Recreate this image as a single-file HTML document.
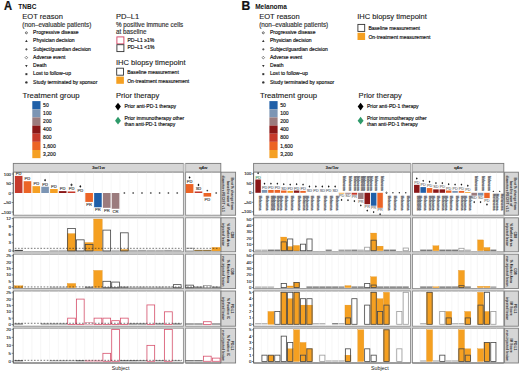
<!DOCTYPE html>
<html><head><meta charset="utf-8"><title>Figure</title>
<style>
html,body{margin:0;padding:0;background:#fff;}
body{width:520px;height:372px;overflow:hidden;}
svg{display:block;font-family:"Liberation Sans", sans-serif;}
</style></head>
<body>
<svg width="520" height="372" viewBox="0 0 520 372">
<rect x="0" y="0" width="520" height="372" fill="#fff"/>
<text x="0" y="0" font-size="12.4" font-weight="bold" fill="#111" stroke="#111" stroke-width="0.25" transform="translate(4.1 10.45) scale(0.9 1)">A</text>
<text x="18.30" y="8.80" font-size="6.5" font-weight="bold" text-anchor="start" fill="#111">TNBC</text>
<text x="22.30" y="19.20" font-size="7.55" font-weight="normal" text-anchor="start" fill="#222" stroke="#222" stroke-width="0.12">EOT reason</text>
<text x="22.30" y="27.20" font-size="6.3" font-weight="normal" text-anchor="start" fill="#333" stroke="#333" stroke-width="0.16">(non–evaluable patients)</text>
<circle cx="26.40" cy="32.80" r="1.00" fill="none" stroke="#333" stroke-width="0.7"/>
<text x="33.10" y="34.10" font-size="5.05" font-weight="normal" text-anchor="start" fill="#111" stroke="#111" stroke-width="0.16">Progressive disease</text>
<path d="M26.40,39.64 L27.70,42.11 L25.10,42.11 Z" fill="#333" stroke="none" stroke-width="1"/>
<text x="33.10" y="42.37" font-size="5.05" font-weight="normal" text-anchor="start" fill="#111" stroke="#111" stroke-width="0.16">Physician decision</text>
<line x1="25.20" y1="49.34" x2="27.60" y2="49.34" stroke="#333" stroke-width="0.7"/>
<line x1="26.40" y1="48.14" x2="26.40" y2="50.54" stroke="#333" stroke-width="0.7"/>
<text x="33.10" y="50.64" font-size="5.05" font-weight="normal" text-anchor="start" fill="#111" stroke="#111" stroke-width="0.16">Subject/guardian decision</text>
<path d="M26.40,56.26 L27.75,57.61 L26.40,58.96 L25.05,57.61 Z" fill="none" stroke="#333" stroke-width="0.6"/>
<text x="33.10" y="58.91" font-size="5.05" font-weight="normal" text-anchor="start" fill="#111" stroke="#111" stroke-width="0.16">Adverse event</text>
<path d="M26.40,67.25 L27.65,64.88 L25.15,64.88 Z" fill="#333" stroke="none" stroke-width="1"/>
<text x="33.10" y="67.18" font-size="5.05" font-weight="normal" text-anchor="start" fill="#111" stroke="#111" stroke-width="0.16">Death</text>
<rect x="25.41" y="73.16" width="1.98" height="1.98" fill="#333" stroke="none" stroke-width="1"/>
<text x="33.10" y="75.45" font-size="5.05" font-weight="normal" text-anchor="start" fill="#111" stroke="#111" stroke-width="0.16">Lost to follow–up</text>
<circle cx="26.40" cy="82.42" r="1.20" fill="#333"/>
<text x="33.10" y="83.72" font-size="5.05" font-weight="normal" text-anchor="start" fill="#111" stroke="#111" stroke-width="0.16">Study terminated by sponsor</text>
<text x="22.60" y="98.00" font-size="7.75" font-weight="normal" text-anchor="start" fill="#222" stroke="#222" stroke-width="0.12">Treatment group</text>
<rect x="32.30" y="101.10" width="8.20" height="8.15" fill="#1f5fa8" stroke="none" stroke-width="1"/>
<text x="43.10" y="106.88" font-size="5.05" font-weight="normal" text-anchor="start" fill="#111" stroke="#111" stroke-width="0.16">50</text>
<rect x="32.30" y="109.25" width="8.20" height="8.15" fill="#7c95b4" stroke="none" stroke-width="1"/>
<text x="43.10" y="115.03" font-size="5.05" font-weight="normal" text-anchor="start" fill="#111" stroke="#111" stroke-width="0.16">100</text>
<rect x="32.30" y="117.40" width="8.20" height="8.15" fill="#9b7b7d" stroke="none" stroke-width="1"/>
<text x="43.10" y="123.17" font-size="5.05" font-weight="normal" text-anchor="start" fill="#111" stroke="#111" stroke-width="0.16">200</text>
<rect x="32.30" y="125.55" width="8.20" height="8.15" fill="#8a1717" stroke="none" stroke-width="1"/>
<text x="43.10" y="131.32" font-size="5.05" font-weight="normal" text-anchor="start" fill="#111" stroke="#111" stroke-width="0.16">400</text>
<rect x="32.30" y="133.70" width="8.20" height="8.15" fill="#c63a2c" stroke="none" stroke-width="1"/>
<text x="43.10" y="139.47" font-size="5.05" font-weight="normal" text-anchor="start" fill="#111" stroke="#111" stroke-width="0.16">800</text>
<rect x="32.30" y="141.85" width="8.20" height="8.15" fill="#ec6426" stroke="none" stroke-width="1"/>
<text x="43.10" y="147.62" font-size="5.05" font-weight="normal" text-anchor="start" fill="#111" stroke="#111" stroke-width="0.16">1,600</text>
<rect x="32.30" y="150.00" width="8.20" height="8.15" fill="#f5a024" stroke="none" stroke-width="1"/>
<text x="43.10" y="155.77" font-size="5.05" font-weight="normal" text-anchor="start" fill="#111" stroke="#111" stroke-width="0.16">3,200</text>
<text x="116.00" y="18.60" font-size="7.55" font-weight="normal" text-anchor="start" fill="#222" stroke="#222" stroke-width="0.12">PD–L1</text>
<text x="116.00" y="27.20" font-size="6.3" font-weight="normal" text-anchor="start" fill="#333" stroke="#333" stroke-width="0.16">% positive immune cells</text>
<text x="116.00" y="34.40" font-size="6.3" font-weight="normal" text-anchor="start" fill="#333" stroke="#333" stroke-width="0.16">at baseline</text>
<rect x="116.90" y="36.90" width="7.00" height="7.00" fill="#fff" stroke="#d23c5c" stroke-width="0.9"/>
<text x="127.40" y="41.90" font-size="5.05" font-weight="normal" text-anchor="start" fill="#111" stroke="#111" stroke-width="0.16">PD–L1 ≥1%</text>
<rect x="116.90" y="44.70" width="7.00" height="6.90" fill="#fff" stroke="#333" stroke-width="0.9"/>
<text x="127.40" y="49.40" font-size="5.05" font-weight="normal" text-anchor="start" fill="#111" stroke="#111" stroke-width="0.16">PD–L1 &lt;1%</text>
<text x="116.00" y="65.10" font-size="7.55" font-weight="normal" text-anchor="start" fill="#222" stroke="#222" stroke-width="0.12">IHC biopsy timepoint</text>
<rect x="116.70" y="68.20" width="6.80" height="7.00" fill="#fff" stroke="#333" stroke-width="0.9"/>
<text x="127.20" y="73.90" font-size="5.05" font-weight="normal" text-anchor="start" fill="#111" stroke="#111" stroke-width="0.16">Baseline measurement</text>
<rect x="116.30" y="76.60" width="7.60" height="7.20" fill="#f5a021" stroke="none" stroke-width="1"/>
<text x="127.20" y="82.50" font-size="5.05" font-weight="normal" text-anchor="start" fill="#111" stroke="#111" stroke-width="0.16">On-treatment measurement</text>
<text x="116.00" y="97.60" font-size="7.55" font-weight="normal" text-anchor="start" fill="#222" stroke="#222" stroke-width="0.12">Prior therapy</text>
<path d="M118.00,102.80 L120.89,106.60 L118.00,110.40 L115.11,106.60 Z" fill="#000" stroke="none" stroke-width="1"/>
<text x="124.40" y="107.80" font-size="5.05" font-weight="normal" text-anchor="start" fill="#111" stroke="#111" stroke-width="0.16">Prior anti-PD-1 therapy</text>
<path d="M118.00,116.80 L120.96,120.70 L118.00,124.60 L115.04,120.70 Z" fill="#2e9a6a" stroke="none" stroke-width="1"/>
<text x="124.40" y="120.20" font-size="5.05" font-weight="normal" text-anchor="start" fill="#111" stroke="#111" stroke-width="0.16">Prior immunotherapy other</text>
<text x="124.40" y="126.20" font-size="5.05" font-weight="normal" text-anchor="start" fill="#111" stroke="#111" stroke-width="0.16">than anti-PD-1 therapy</text>
<text x="0" y="0" font-size="12.4" font-weight="bold" fill="#111" stroke="#111" stroke-width="0.25" transform="translate(241.4 10.45) scale(0.98 1)">B</text>
<text x="255.20" y="8.60" font-size="6.5" font-weight="bold" text-anchor="start" fill="#111">Melanoma</text>
<text x="259.20" y="19.20" font-size="7.55" font-weight="normal" text-anchor="start" fill="#222" stroke="#222" stroke-width="0.12">EOT reason</text>
<text x="259.20" y="27.20" font-size="6.3" font-weight="normal" text-anchor="start" fill="#333" stroke="#333" stroke-width="0.16">(non–evaluable patients)</text>
<circle cx="263.30" cy="32.80" r="1.00" fill="none" stroke="#333" stroke-width="0.7"/>
<text x="270.00" y="34.10" font-size="5.05" font-weight="normal" text-anchor="start" fill="#111" stroke="#111" stroke-width="0.16">Progressive disease</text>
<path d="M263.30,39.64 L264.60,42.11 L262.00,42.11 Z" fill="#333" stroke="none" stroke-width="1"/>
<text x="270.00" y="42.37" font-size="5.05" font-weight="normal" text-anchor="start" fill="#111" stroke="#111" stroke-width="0.16">Physician decision</text>
<line x1="262.10" y1="49.34" x2="264.50" y2="49.34" stroke="#333" stroke-width="0.7"/>
<line x1="263.30" y1="48.14" x2="263.30" y2="50.54" stroke="#333" stroke-width="0.7"/>
<text x="270.00" y="50.64" font-size="5.05" font-weight="normal" text-anchor="start" fill="#111" stroke="#111" stroke-width="0.16">Subject/guardian decision</text>
<path d="M263.30,56.26 L264.65,57.61 L263.30,58.96 L261.95,57.61 Z" fill="none" stroke="#333" stroke-width="0.6"/>
<text x="270.00" y="58.91" font-size="5.05" font-weight="normal" text-anchor="start" fill="#111" stroke="#111" stroke-width="0.16">Adverse event</text>
<path d="M263.30,67.25 L264.55,64.88 L262.05,64.88 Z" fill="#333" stroke="none" stroke-width="1"/>
<text x="270.00" y="67.18" font-size="5.05" font-weight="normal" text-anchor="start" fill="#111" stroke="#111" stroke-width="0.16">Death</text>
<rect x="262.31" y="73.16" width="1.98" height="1.98" fill="#333" stroke="none" stroke-width="1"/>
<text x="270.00" y="75.45" font-size="5.05" font-weight="normal" text-anchor="start" fill="#111" stroke="#111" stroke-width="0.16">Lost to follow–up</text>
<circle cx="263.30" cy="82.42" r="1.20" fill="#333"/>
<text x="270.00" y="83.72" font-size="5.05" font-weight="normal" text-anchor="start" fill="#111" stroke="#111" stroke-width="0.16">Study terminated by sponsor</text>
<text x="260.00" y="98.00" font-size="7.75" font-weight="normal" text-anchor="start" fill="#222" stroke="#222" stroke-width="0.12">Treatment group</text>
<rect x="269.40" y="101.10" width="8.20" height="8.15" fill="#1f5fa8" stroke="none" stroke-width="1"/>
<text x="280.20" y="106.88" font-size="5.05" font-weight="normal" text-anchor="start" fill="#111" stroke="#111" stroke-width="0.16">50</text>
<rect x="269.40" y="109.25" width="8.20" height="8.15" fill="#7c95b4" stroke="none" stroke-width="1"/>
<text x="280.20" y="115.03" font-size="5.05" font-weight="normal" text-anchor="start" fill="#111" stroke="#111" stroke-width="0.16">100</text>
<rect x="269.40" y="117.40" width="8.20" height="8.15" fill="#9b7b7d" stroke="none" stroke-width="1"/>
<text x="280.20" y="123.17" font-size="5.05" font-weight="normal" text-anchor="start" fill="#111" stroke="#111" stroke-width="0.16">200</text>
<rect x="269.40" y="125.55" width="8.20" height="8.15" fill="#8a1717" stroke="none" stroke-width="1"/>
<text x="280.20" y="131.32" font-size="5.05" font-weight="normal" text-anchor="start" fill="#111" stroke="#111" stroke-width="0.16">400</text>
<rect x="269.40" y="133.70" width="8.20" height="8.15" fill="#c63a2c" stroke="none" stroke-width="1"/>
<text x="280.20" y="139.47" font-size="5.05" font-weight="normal" text-anchor="start" fill="#111" stroke="#111" stroke-width="0.16">800</text>
<rect x="269.40" y="141.85" width="8.20" height="8.15" fill="#ec6426" stroke="none" stroke-width="1"/>
<text x="280.20" y="147.62" font-size="5.05" font-weight="normal" text-anchor="start" fill="#111" stroke="#111" stroke-width="0.16">1,600</text>
<rect x="269.40" y="150.00" width="8.20" height="8.15" fill="#f5a024" stroke="none" stroke-width="1"/>
<text x="280.20" y="155.77" font-size="5.05" font-weight="normal" text-anchor="start" fill="#111" stroke="#111" stroke-width="0.16">3,200</text>
<text x="357.20" y="19.10" font-size="7.55" font-weight="normal" text-anchor="start" fill="#222" stroke="#222" stroke-width="0.12">IHC biopsy timepoint</text>
<rect x="357.90" y="24.40" width="6.80" height="7.00" fill="#fff" stroke="#333" stroke-width="0.9"/>
<text x="368.40" y="30.10" font-size="5.05" font-weight="normal" text-anchor="start" fill="#111" stroke="#111" stroke-width="0.16">Baseline measurement</text>
<rect x="357.50" y="32.80" width="7.60" height="7.20" fill="#f5a021" stroke="none" stroke-width="1"/>
<text x="368.40" y="38.70" font-size="5.05" font-weight="normal" text-anchor="start" fill="#111" stroke="#111" stroke-width="0.16">On-treatment measurement</text>
<text x="358.60" y="97.60" font-size="7.55" font-weight="normal" text-anchor="start" fill="#222" stroke="#222" stroke-width="0.12">Prior therapy</text>
<path d="M360.60,102.80 L363.49,106.60 L360.60,110.40 L357.71,106.60 Z" fill="#000" stroke="none" stroke-width="1"/>
<text x="367.00" y="107.80" font-size="5.05" font-weight="normal" text-anchor="start" fill="#111" stroke="#111" stroke-width="0.16">Prior anti-PD-1 therapy</text>
<path d="M360.60,116.80 L363.56,120.70 L360.60,124.60 L357.64,120.70 Z" fill="#2e9a6a" stroke="none" stroke-width="1"/>
<text x="367.00" y="120.20" font-size="5.05" font-weight="normal" text-anchor="start" fill="#111" stroke="#111" stroke-width="0.16">Prior immunotherapy other</text>
<text x="367.00" y="126.20" font-size="5.05" font-weight="normal" text-anchor="start" fill="#111" stroke="#111" stroke-width="0.16">than anti-PD-1 therapy</text>
<rect x="13.30" y="163.40" width="170.10" height="8.80" fill="#d6d6d6" stroke="#7a7a7a" stroke-width="0.9"/>
<rect x="185.60" y="163.40" width="35.20" height="8.80" fill="#d6d6d6" stroke="#7a7a7a" stroke-width="0.9"/>
<rect x="12.70" y="215.20" width="208.70" height="2.60" fill="#d9d9d9" stroke="none" stroke-width="1"/>
<rect x="12.70" y="251.80" width="208.70" height="2.40" fill="#d9d9d9" stroke="none" stroke-width="1"/>
<rect x="12.70" y="288.60" width="208.70" height="2.40" fill="#d9d9d9" stroke="none" stroke-width="1"/>
<rect x="12.70" y="326.20" width="208.70" height="2.00" fill="#d9d9d9" stroke="none" stroke-width="1"/>
<rect x="183.40" y="163.40" width="2.20" height="199.60" fill="#d9d9d9" stroke="none" stroke-width="1"/>
<rect x="13.30" y="172.20" width="170.10" height="43.00" fill="#fff" stroke="#8c8c8c" stroke-width="0.9"/>
<rect x="13.30" y="217.80" width="170.10" height="34.00" fill="#fff" stroke="#8c8c8c" stroke-width="0.9"/>
<rect x="13.30" y="254.20" width="170.10" height="34.40" fill="#fff" stroke="#8c8c8c" stroke-width="0.9"/>
<rect x="13.30" y="291.00" width="170.10" height="35.20" fill="#fff" stroke="#8c8c8c" stroke-width="0.9"/>
<rect x="13.30" y="328.20" width="170.10" height="34.80" fill="#fff" stroke="#8c8c8c" stroke-width="0.9"/>
<rect x="185.60" y="172.20" width="35.20" height="43.00" fill="#fff" stroke="#8c8c8c" stroke-width="0.9"/>
<rect x="185.60" y="217.80" width="35.20" height="34.00" fill="#fff" stroke="#8c8c8c" stroke-width="0.9"/>
<rect x="185.60" y="254.20" width="35.20" height="34.40" fill="#fff" stroke="#8c8c8c" stroke-width="0.9"/>
<rect x="185.60" y="291.00" width="35.20" height="35.20" fill="#fff" stroke="#8c8c8c" stroke-width="0.9"/>
<rect x="185.60" y="328.20" width="35.20" height="34.80" fill="#fff" stroke="#8c8c8c" stroke-width="0.9"/>
<rect x="221.00" y="172.20" width="14.60" height="43.00" fill="#d6d6d6" stroke="#7a7a7a" stroke-width="0.9"/>
<rect x="221.00" y="217.80" width="14.60" height="34.00" fill="#d6d6d6" stroke="#7a7a7a" stroke-width="0.9"/>
<rect x="221.00" y="254.20" width="14.60" height="34.40" fill="#d6d6d6" stroke="#7a7a7a" stroke-width="0.9"/>
<rect x="221.00" y="291.00" width="14.60" height="35.20" fill="#d6d6d6" stroke="#7a7a7a" stroke-width="0.9"/>
<rect x="221.00" y="328.20" width="14.60" height="34.80" fill="#d6d6d6" stroke="#7a7a7a" stroke-width="0.9"/>
<rect x="253.60" y="163.40" width="156.90" height="8.80" fill="#d6d6d6" stroke="#7a7a7a" stroke-width="0.9"/>
<rect x="412.50" y="163.40" width="91.30" height="8.80" fill="#d6d6d6" stroke="#7a7a7a" stroke-width="0.9"/>
<rect x="253.00" y="215.20" width="251.40" height="2.60" fill="#d9d9d9" stroke="none" stroke-width="1"/>
<rect x="253.00" y="251.80" width="251.40" height="2.40" fill="#d9d9d9" stroke="none" stroke-width="1"/>
<rect x="253.00" y="288.60" width="251.40" height="2.40" fill="#d9d9d9" stroke="none" stroke-width="1"/>
<rect x="253.00" y="326.20" width="251.40" height="2.00" fill="#d9d9d9" stroke="none" stroke-width="1"/>
<rect x="410.50" y="163.40" width="2.00" height="199.60" fill="#d9d9d9" stroke="none" stroke-width="1"/>
<rect x="253.60" y="172.20" width="156.90" height="43.00" fill="#fff" stroke="#8c8c8c" stroke-width="0.9"/>
<rect x="253.60" y="217.80" width="156.90" height="34.00" fill="#fff" stroke="#8c8c8c" stroke-width="0.9"/>
<rect x="253.60" y="254.20" width="156.90" height="34.40" fill="#fff" stroke="#8c8c8c" stroke-width="0.9"/>
<rect x="253.60" y="291.00" width="156.90" height="35.20" fill="#fff" stroke="#8c8c8c" stroke-width="0.9"/>
<rect x="253.60" y="328.20" width="156.90" height="34.80" fill="#fff" stroke="#8c8c8c" stroke-width="0.9"/>
<rect x="412.50" y="172.20" width="91.30" height="43.00" fill="#fff" stroke="#8c8c8c" stroke-width="0.9"/>
<rect x="412.50" y="217.80" width="91.30" height="34.00" fill="#fff" stroke="#8c8c8c" stroke-width="0.9"/>
<rect x="412.50" y="254.20" width="91.30" height="34.40" fill="#fff" stroke="#8c8c8c" stroke-width="0.9"/>
<rect x="412.50" y="291.00" width="91.30" height="35.20" fill="#fff" stroke="#8c8c8c" stroke-width="0.9"/>
<rect x="412.50" y="328.20" width="91.30" height="34.80" fill="#fff" stroke="#8c8c8c" stroke-width="0.9"/>
<rect x="504.60" y="172.20" width="13.80" height="43.00" fill="#d6d6d6" stroke="#7a7a7a" stroke-width="0.9"/>
<rect x="504.60" y="217.80" width="13.80" height="34.00" fill="#d6d6d6" stroke="#7a7a7a" stroke-width="0.9"/>
<rect x="504.60" y="254.20" width="13.80" height="34.40" fill="#d6d6d6" stroke="#7a7a7a" stroke-width="0.9"/>
<rect x="504.60" y="291.00" width="13.80" height="35.20" fill="#d6d6d6" stroke="#7a7a7a" stroke-width="0.9"/>
<rect x="504.60" y="328.20" width="13.80" height="34.80" fill="#d6d6d6" stroke="#7a7a7a" stroke-width="0.9"/>
<text x="98.35" y="169.00" font-size="4.4" font-weight="bold" text-anchor="middle" fill="#111">3w/1w</text>
<text x="203.20" y="169.00" font-size="4.4" font-weight="bold" text-anchor="middle" fill="#111">q4w</text>
<text x="332.05" y="169.00" font-size="4.4" font-weight="bold" text-anchor="middle" fill="#111">3w/1w</text>
<text x="458.15" y="169.00" font-size="4.4" font-weight="bold" text-anchor="middle" fill="#111">q4w</text>
<text x="231.00" y="193.70" font-size="3.35" font-weight="bold" text-anchor="middle" fill="#2a2a2a" transform="rotate(90 231.00 193.70)">Best % change from</text>
<text x="226.70" y="193.70" font-size="3.35" font-weight="bold" text-anchor="middle" fill="#2a2a2a" transform="rotate(90 226.70 193.70)">baseline sum of</text>
<text x="222.40" y="193.70" font-size="3.35" font-weight="bold" text-anchor="middle" fill="#2a2a2a" transform="rotate(90 222.40 193.70)">diameters RECIST v1.1</text>
<text x="231.00" y="234.80" font-size="3.35" font-weight="bold" text-anchor="middle" fill="#2a2a2a" transform="rotate(90 231.00 234.80)">CD8</text>
<text x="226.70" y="234.80" font-size="3.35" font-weight="bold" text-anchor="middle" fill="#2a2a2a" transform="rotate(90 226.70 234.80)">% Marker Area</text>
<text x="222.40" y="234.80" font-size="3.35" font-weight="bold" text-anchor="middle" fill="#2a2a2a" transform="rotate(90 222.40 234.80)">injected lesion</text>
<text x="231.00" y="271.40" font-size="3.35" font-weight="bold" text-anchor="middle" fill="#2a2a2a" transform="rotate(90 231.00 271.40)">CD8</text>
<text x="226.70" y="271.40" font-size="3.35" font-weight="bold" text-anchor="middle" fill="#2a2a2a" transform="rotate(90 226.70 271.40)">% Marker Area</text>
<text x="222.40" y="271.40" font-size="3.35" font-weight="bold" text-anchor="middle" fill="#2a2a2a" transform="rotate(90 222.40 271.40)">non-injected lesion</text>
<text x="231.00" y="308.60" font-size="3.35" font-weight="bold" text-anchor="middle" fill="#2a2a2a" transform="rotate(90 231.00 308.60)">PD-L1</text>
<text x="226.70" y="308.60" font-size="3.35" font-weight="bold" text-anchor="middle" fill="#2a2a2a" transform="rotate(90 226.70 308.60)">% Positive IC</text>
<text x="222.40" y="308.60" font-size="3.35" font-weight="bold" text-anchor="middle" fill="#2a2a2a" transform="rotate(90 222.40 308.60)">injected lesion</text>
<text x="231.00" y="345.60" font-size="3.35" font-weight="bold" text-anchor="middle" fill="#2a2a2a" transform="rotate(90 231.00 345.60)">PD-L1</text>
<text x="226.70" y="345.60" font-size="3.35" font-weight="bold" text-anchor="middle" fill="#2a2a2a" transform="rotate(90 226.70 345.60)">% Positive IC</text>
<text x="222.40" y="345.60" font-size="3.35" font-weight="bold" text-anchor="middle" fill="#2a2a2a" transform="rotate(90 222.40 345.60)">non-injected lesion</text>
<text x="514.20" y="193.70" font-size="3.35" font-weight="bold" text-anchor="middle" fill="#2a2a2a" transform="rotate(90 514.20 193.70)">Best % change from</text>
<text x="509.90" y="193.70" font-size="3.35" font-weight="bold" text-anchor="middle" fill="#2a2a2a" transform="rotate(90 509.90 193.70)">baseline sum of</text>
<text x="505.60" y="193.70" font-size="3.35" font-weight="bold" text-anchor="middle" fill="#2a2a2a" transform="rotate(90 505.60 193.70)">diameters RECIST v1.1</text>
<text x="514.20" y="234.80" font-size="3.35" font-weight="bold" text-anchor="middle" fill="#2a2a2a" transform="rotate(90 514.20 234.80)">CD8</text>
<text x="509.90" y="234.80" font-size="3.35" font-weight="bold" text-anchor="middle" fill="#2a2a2a" transform="rotate(90 509.90 234.80)">% Marker Area</text>
<text x="505.60" y="234.80" font-size="3.35" font-weight="bold" text-anchor="middle" fill="#2a2a2a" transform="rotate(90 505.60 234.80)">injected lesion</text>
<text x="514.20" y="271.40" font-size="3.35" font-weight="bold" text-anchor="middle" fill="#2a2a2a" transform="rotate(90 514.20 271.40)">CD8</text>
<text x="509.90" y="271.40" font-size="3.35" font-weight="bold" text-anchor="middle" fill="#2a2a2a" transform="rotate(90 509.90 271.40)">% Marker Area</text>
<text x="505.60" y="271.40" font-size="3.35" font-weight="bold" text-anchor="middle" fill="#2a2a2a" transform="rotate(90 505.60 271.40)">non-injected lesion</text>
<text x="514.20" y="308.60" font-size="3.35" font-weight="bold" text-anchor="middle" fill="#2a2a2a" transform="rotate(90 514.20 308.60)">PD-L1</text>
<text x="509.90" y="308.60" font-size="3.35" font-weight="bold" text-anchor="middle" fill="#2a2a2a" transform="rotate(90 509.90 308.60)">IM Score</text>
<text x="505.60" y="308.60" font-size="3.35" font-weight="bold" text-anchor="middle" fill="#2a2a2a" transform="rotate(90 505.60 308.60)">injected lesion</text>
<text x="514.20" y="345.60" font-size="3.35" font-weight="bold" text-anchor="middle" fill="#2a2a2a" transform="rotate(90 514.20 345.60)">PD-L1</text>
<text x="509.90" y="345.60" font-size="3.35" font-weight="bold" text-anchor="middle" fill="#2a2a2a" transform="rotate(90 509.90 345.60)">IM Score</text>
<text x="505.60" y="345.60" font-size="3.35" font-weight="bold" text-anchor="middle" fill="#2a2a2a" transform="rotate(90 505.60 345.60)">non-injected lesion</text>
<line x1="23.05" y1="172.70" x2="23.05" y2="214.70" stroke="#f0f0f0" stroke-width="0.6"/>
<line x1="31.87" y1="172.70" x2="31.87" y2="214.70" stroke="#f0f0f0" stroke-width="0.6"/>
<line x1="40.67" y1="172.70" x2="40.67" y2="214.70" stroke="#f0f0f0" stroke-width="0.6"/>
<line x1="49.48" y1="172.70" x2="49.48" y2="214.70" stroke="#f0f0f0" stroke-width="0.6"/>
<line x1="58.30" y1="172.70" x2="58.30" y2="214.70" stroke="#f0f0f0" stroke-width="0.6"/>
<line x1="67.11" y1="172.70" x2="67.11" y2="214.70" stroke="#f0f0f0" stroke-width="0.6"/>
<line x1="75.91" y1="172.70" x2="75.91" y2="214.70" stroke="#f0f0f0" stroke-width="0.6"/>
<line x1="84.72" y1="172.70" x2="84.72" y2="214.70" stroke="#f0f0f0" stroke-width="0.6"/>
<line x1="93.53" y1="172.70" x2="93.53" y2="214.70" stroke="#f0f0f0" stroke-width="0.6"/>
<line x1="102.34" y1="172.70" x2="102.34" y2="214.70" stroke="#f0f0f0" stroke-width="0.6"/>
<line x1="111.16" y1="172.70" x2="111.16" y2="214.70" stroke="#f0f0f0" stroke-width="0.6"/>
<line x1="119.97" y1="172.70" x2="119.97" y2="214.70" stroke="#f0f0f0" stroke-width="0.6"/>
<line x1="128.78" y1="172.70" x2="128.78" y2="214.70" stroke="#f0f0f0" stroke-width="0.6"/>
<line x1="137.59" y1="172.70" x2="137.59" y2="214.70" stroke="#f0f0f0" stroke-width="0.6"/>
<line x1="146.40" y1="172.70" x2="146.40" y2="214.70" stroke="#f0f0f0" stroke-width="0.6"/>
<line x1="155.21" y1="172.70" x2="155.21" y2="214.70" stroke="#f0f0f0" stroke-width="0.6"/>
<line x1="164.02" y1="172.70" x2="164.02" y2="214.70" stroke="#f0f0f0" stroke-width="0.6"/>
<line x1="172.83" y1="172.70" x2="172.83" y2="214.70" stroke="#f0f0f0" stroke-width="0.6"/>
<line x1="23.05" y1="218.30" x2="23.05" y2="251.30" stroke="#f0f0f0" stroke-width="0.6"/>
<line x1="31.87" y1="218.30" x2="31.87" y2="251.30" stroke="#f0f0f0" stroke-width="0.6"/>
<line x1="40.67" y1="218.30" x2="40.67" y2="251.30" stroke="#f0f0f0" stroke-width="0.6"/>
<line x1="49.48" y1="218.30" x2="49.48" y2="251.30" stroke="#f0f0f0" stroke-width="0.6"/>
<line x1="58.30" y1="218.30" x2="58.30" y2="251.30" stroke="#f0f0f0" stroke-width="0.6"/>
<line x1="67.11" y1="218.30" x2="67.11" y2="251.30" stroke="#f0f0f0" stroke-width="0.6"/>
<line x1="75.91" y1="218.30" x2="75.91" y2="251.30" stroke="#f0f0f0" stroke-width="0.6"/>
<line x1="84.72" y1="218.30" x2="84.72" y2="251.30" stroke="#f0f0f0" stroke-width="0.6"/>
<line x1="93.53" y1="218.30" x2="93.53" y2="251.30" stroke="#f0f0f0" stroke-width="0.6"/>
<line x1="102.34" y1="218.30" x2="102.34" y2="251.30" stroke="#f0f0f0" stroke-width="0.6"/>
<line x1="111.16" y1="218.30" x2="111.16" y2="251.30" stroke="#f0f0f0" stroke-width="0.6"/>
<line x1="119.97" y1="218.30" x2="119.97" y2="251.30" stroke="#f0f0f0" stroke-width="0.6"/>
<line x1="128.78" y1="218.30" x2="128.78" y2="251.30" stroke="#f0f0f0" stroke-width="0.6"/>
<line x1="137.59" y1="218.30" x2="137.59" y2="251.30" stroke="#f0f0f0" stroke-width="0.6"/>
<line x1="146.40" y1="218.30" x2="146.40" y2="251.30" stroke="#f0f0f0" stroke-width="0.6"/>
<line x1="155.21" y1="218.30" x2="155.21" y2="251.30" stroke="#f0f0f0" stroke-width="0.6"/>
<line x1="164.02" y1="218.30" x2="164.02" y2="251.30" stroke="#f0f0f0" stroke-width="0.6"/>
<line x1="172.83" y1="218.30" x2="172.83" y2="251.30" stroke="#f0f0f0" stroke-width="0.6"/>
<line x1="23.05" y1="254.70" x2="23.05" y2="288.10" stroke="#f0f0f0" stroke-width="0.6"/>
<line x1="31.87" y1="254.70" x2="31.87" y2="288.10" stroke="#f0f0f0" stroke-width="0.6"/>
<line x1="40.67" y1="254.70" x2="40.67" y2="288.10" stroke="#f0f0f0" stroke-width="0.6"/>
<line x1="49.48" y1="254.70" x2="49.48" y2="288.10" stroke="#f0f0f0" stroke-width="0.6"/>
<line x1="58.30" y1="254.70" x2="58.30" y2="288.10" stroke="#f0f0f0" stroke-width="0.6"/>
<line x1="67.11" y1="254.70" x2="67.11" y2="288.10" stroke="#f0f0f0" stroke-width="0.6"/>
<line x1="75.91" y1="254.70" x2="75.91" y2="288.10" stroke="#f0f0f0" stroke-width="0.6"/>
<line x1="84.72" y1="254.70" x2="84.72" y2="288.10" stroke="#f0f0f0" stroke-width="0.6"/>
<line x1="93.53" y1="254.70" x2="93.53" y2="288.10" stroke="#f0f0f0" stroke-width="0.6"/>
<line x1="102.34" y1="254.70" x2="102.34" y2="288.10" stroke="#f0f0f0" stroke-width="0.6"/>
<line x1="111.16" y1="254.70" x2="111.16" y2="288.10" stroke="#f0f0f0" stroke-width="0.6"/>
<line x1="119.97" y1="254.70" x2="119.97" y2="288.10" stroke="#f0f0f0" stroke-width="0.6"/>
<line x1="128.78" y1="254.70" x2="128.78" y2="288.10" stroke="#f0f0f0" stroke-width="0.6"/>
<line x1="137.59" y1="254.70" x2="137.59" y2="288.10" stroke="#f0f0f0" stroke-width="0.6"/>
<line x1="146.40" y1="254.70" x2="146.40" y2="288.10" stroke="#f0f0f0" stroke-width="0.6"/>
<line x1="155.21" y1="254.70" x2="155.21" y2="288.10" stroke="#f0f0f0" stroke-width="0.6"/>
<line x1="164.02" y1="254.70" x2="164.02" y2="288.10" stroke="#f0f0f0" stroke-width="0.6"/>
<line x1="172.83" y1="254.70" x2="172.83" y2="288.10" stroke="#f0f0f0" stroke-width="0.6"/>
<line x1="23.05" y1="291.50" x2="23.05" y2="325.70" stroke="#f0f0f0" stroke-width="0.6"/>
<line x1="31.87" y1="291.50" x2="31.87" y2="325.70" stroke="#f0f0f0" stroke-width="0.6"/>
<line x1="40.67" y1="291.50" x2="40.67" y2="325.70" stroke="#f0f0f0" stroke-width="0.6"/>
<line x1="49.48" y1="291.50" x2="49.48" y2="325.70" stroke="#f0f0f0" stroke-width="0.6"/>
<line x1="58.30" y1="291.50" x2="58.30" y2="325.70" stroke="#f0f0f0" stroke-width="0.6"/>
<line x1="67.11" y1="291.50" x2="67.11" y2="325.70" stroke="#f0f0f0" stroke-width="0.6"/>
<line x1="75.91" y1="291.50" x2="75.91" y2="325.70" stroke="#f0f0f0" stroke-width="0.6"/>
<line x1="84.72" y1="291.50" x2="84.72" y2="325.70" stroke="#f0f0f0" stroke-width="0.6"/>
<line x1="93.53" y1="291.50" x2="93.53" y2="325.70" stroke="#f0f0f0" stroke-width="0.6"/>
<line x1="102.34" y1="291.50" x2="102.34" y2="325.70" stroke="#f0f0f0" stroke-width="0.6"/>
<line x1="111.16" y1="291.50" x2="111.16" y2="325.70" stroke="#f0f0f0" stroke-width="0.6"/>
<line x1="119.97" y1="291.50" x2="119.97" y2="325.70" stroke="#f0f0f0" stroke-width="0.6"/>
<line x1="128.78" y1="291.50" x2="128.78" y2="325.70" stroke="#f0f0f0" stroke-width="0.6"/>
<line x1="137.59" y1="291.50" x2="137.59" y2="325.70" stroke="#f0f0f0" stroke-width="0.6"/>
<line x1="146.40" y1="291.50" x2="146.40" y2="325.70" stroke="#f0f0f0" stroke-width="0.6"/>
<line x1="155.21" y1="291.50" x2="155.21" y2="325.70" stroke="#f0f0f0" stroke-width="0.6"/>
<line x1="164.02" y1="291.50" x2="164.02" y2="325.70" stroke="#f0f0f0" stroke-width="0.6"/>
<line x1="172.83" y1="291.50" x2="172.83" y2="325.70" stroke="#f0f0f0" stroke-width="0.6"/>
<line x1="23.05" y1="328.70" x2="23.05" y2="362.50" stroke="#f0f0f0" stroke-width="0.6"/>
<line x1="31.87" y1="328.70" x2="31.87" y2="362.50" stroke="#f0f0f0" stroke-width="0.6"/>
<line x1="40.67" y1="328.70" x2="40.67" y2="362.50" stroke="#f0f0f0" stroke-width="0.6"/>
<line x1="49.48" y1="328.70" x2="49.48" y2="362.50" stroke="#f0f0f0" stroke-width="0.6"/>
<line x1="58.30" y1="328.70" x2="58.30" y2="362.50" stroke="#f0f0f0" stroke-width="0.6"/>
<line x1="67.11" y1="328.70" x2="67.11" y2="362.50" stroke="#f0f0f0" stroke-width="0.6"/>
<line x1="75.91" y1="328.70" x2="75.91" y2="362.50" stroke="#f0f0f0" stroke-width="0.6"/>
<line x1="84.72" y1="328.70" x2="84.72" y2="362.50" stroke="#f0f0f0" stroke-width="0.6"/>
<line x1="93.53" y1="328.70" x2="93.53" y2="362.50" stroke="#f0f0f0" stroke-width="0.6"/>
<line x1="102.34" y1="328.70" x2="102.34" y2="362.50" stroke="#f0f0f0" stroke-width="0.6"/>
<line x1="111.16" y1="328.70" x2="111.16" y2="362.50" stroke="#f0f0f0" stroke-width="0.6"/>
<line x1="119.97" y1="328.70" x2="119.97" y2="362.50" stroke="#f0f0f0" stroke-width="0.6"/>
<line x1="128.78" y1="328.70" x2="128.78" y2="362.50" stroke="#f0f0f0" stroke-width="0.6"/>
<line x1="137.59" y1="328.70" x2="137.59" y2="362.50" stroke="#f0f0f0" stroke-width="0.6"/>
<line x1="146.40" y1="328.70" x2="146.40" y2="362.50" stroke="#f0f0f0" stroke-width="0.6"/>
<line x1="155.21" y1="328.70" x2="155.21" y2="362.50" stroke="#f0f0f0" stroke-width="0.6"/>
<line x1="164.02" y1="328.70" x2="164.02" y2="362.50" stroke="#f0f0f0" stroke-width="0.6"/>
<line x1="172.83" y1="328.70" x2="172.83" y2="362.50" stroke="#f0f0f0" stroke-width="0.6"/>
<line x1="194.03" y1="172.70" x2="194.03" y2="214.70" stroke="#f0f0f0" stroke-width="0.6"/>
<line x1="202.91" y1="172.70" x2="202.91" y2="214.70" stroke="#f0f0f0" stroke-width="0.6"/>
<line x1="211.78" y1="172.70" x2="211.78" y2="214.70" stroke="#f0f0f0" stroke-width="0.6"/>
<line x1="194.03" y1="218.30" x2="194.03" y2="251.30" stroke="#f0f0f0" stroke-width="0.6"/>
<line x1="202.91" y1="218.30" x2="202.91" y2="251.30" stroke="#f0f0f0" stroke-width="0.6"/>
<line x1="211.78" y1="218.30" x2="211.78" y2="251.30" stroke="#f0f0f0" stroke-width="0.6"/>
<line x1="194.03" y1="254.70" x2="194.03" y2="288.10" stroke="#f0f0f0" stroke-width="0.6"/>
<line x1="202.91" y1="254.70" x2="202.91" y2="288.10" stroke="#f0f0f0" stroke-width="0.6"/>
<line x1="211.78" y1="254.70" x2="211.78" y2="288.10" stroke="#f0f0f0" stroke-width="0.6"/>
<line x1="194.03" y1="291.50" x2="194.03" y2="325.70" stroke="#f0f0f0" stroke-width="0.6"/>
<line x1="202.91" y1="291.50" x2="202.91" y2="325.70" stroke="#f0f0f0" stroke-width="0.6"/>
<line x1="211.78" y1="291.50" x2="211.78" y2="325.70" stroke="#f0f0f0" stroke-width="0.6"/>
<line x1="194.03" y1="328.70" x2="194.03" y2="362.50" stroke="#f0f0f0" stroke-width="0.6"/>
<line x1="202.91" y1="328.70" x2="202.91" y2="362.50" stroke="#f0f0f0" stroke-width="0.6"/>
<line x1="211.78" y1="328.70" x2="211.78" y2="362.50" stroke="#f0f0f0" stroke-width="0.6"/>
<line x1="261.31" y1="172.70" x2="261.31" y2="214.70" stroke="#f0f0f0" stroke-width="0.6"/>
<line x1="267.73" y1="172.70" x2="267.73" y2="214.70" stroke="#f0f0f0" stroke-width="0.6"/>
<line x1="274.15" y1="172.70" x2="274.15" y2="214.70" stroke="#f0f0f0" stroke-width="0.6"/>
<line x1="280.57" y1="172.70" x2="280.57" y2="214.70" stroke="#f0f0f0" stroke-width="0.6"/>
<line x1="286.99" y1="172.70" x2="286.99" y2="214.70" stroke="#f0f0f0" stroke-width="0.6"/>
<line x1="293.41" y1="172.70" x2="293.41" y2="214.70" stroke="#f0f0f0" stroke-width="0.6"/>
<line x1="299.83" y1="172.70" x2="299.83" y2="214.70" stroke="#f0f0f0" stroke-width="0.6"/>
<line x1="306.25" y1="172.70" x2="306.25" y2="214.70" stroke="#f0f0f0" stroke-width="0.6"/>
<line x1="312.67" y1="172.70" x2="312.67" y2="214.70" stroke="#f0f0f0" stroke-width="0.6"/>
<line x1="319.09" y1="172.70" x2="319.09" y2="214.70" stroke="#f0f0f0" stroke-width="0.6"/>
<line x1="325.51" y1="172.70" x2="325.51" y2="214.70" stroke="#f0f0f0" stroke-width="0.6"/>
<line x1="331.93" y1="172.70" x2="331.93" y2="214.70" stroke="#f0f0f0" stroke-width="0.6"/>
<line x1="338.35" y1="172.70" x2="338.35" y2="214.70" stroke="#f0f0f0" stroke-width="0.6"/>
<line x1="344.77" y1="172.70" x2="344.77" y2="214.70" stroke="#f0f0f0" stroke-width="0.6"/>
<line x1="351.19" y1="172.70" x2="351.19" y2="214.70" stroke="#f0f0f0" stroke-width="0.6"/>
<line x1="357.61" y1="172.70" x2="357.61" y2="214.70" stroke="#f0f0f0" stroke-width="0.6"/>
<line x1="364.03" y1="172.70" x2="364.03" y2="214.70" stroke="#f0f0f0" stroke-width="0.6"/>
<line x1="370.45" y1="172.70" x2="370.45" y2="214.70" stroke="#f0f0f0" stroke-width="0.6"/>
<line x1="376.87" y1="172.70" x2="376.87" y2="214.70" stroke="#f0f0f0" stroke-width="0.6"/>
<line x1="383.29" y1="172.70" x2="383.29" y2="214.70" stroke="#f0f0f0" stroke-width="0.6"/>
<line x1="389.71" y1="172.70" x2="389.71" y2="214.70" stroke="#f0f0f0" stroke-width="0.6"/>
<line x1="396.13" y1="172.70" x2="396.13" y2="214.70" stroke="#f0f0f0" stroke-width="0.6"/>
<line x1="402.55" y1="172.70" x2="402.55" y2="214.70" stroke="#f0f0f0" stroke-width="0.6"/>
<line x1="261.31" y1="218.30" x2="261.31" y2="251.30" stroke="#f0f0f0" stroke-width="0.6"/>
<line x1="267.73" y1="218.30" x2="267.73" y2="251.30" stroke="#f0f0f0" stroke-width="0.6"/>
<line x1="274.15" y1="218.30" x2="274.15" y2="251.30" stroke="#f0f0f0" stroke-width="0.6"/>
<line x1="280.57" y1="218.30" x2="280.57" y2="251.30" stroke="#f0f0f0" stroke-width="0.6"/>
<line x1="286.99" y1="218.30" x2="286.99" y2="251.30" stroke="#f0f0f0" stroke-width="0.6"/>
<line x1="293.41" y1="218.30" x2="293.41" y2="251.30" stroke="#f0f0f0" stroke-width="0.6"/>
<line x1="299.83" y1="218.30" x2="299.83" y2="251.30" stroke="#f0f0f0" stroke-width="0.6"/>
<line x1="306.25" y1="218.30" x2="306.25" y2="251.30" stroke="#f0f0f0" stroke-width="0.6"/>
<line x1="312.67" y1="218.30" x2="312.67" y2="251.30" stroke="#f0f0f0" stroke-width="0.6"/>
<line x1="319.09" y1="218.30" x2="319.09" y2="251.30" stroke="#f0f0f0" stroke-width="0.6"/>
<line x1="325.51" y1="218.30" x2="325.51" y2="251.30" stroke="#f0f0f0" stroke-width="0.6"/>
<line x1="331.93" y1="218.30" x2="331.93" y2="251.30" stroke="#f0f0f0" stroke-width="0.6"/>
<line x1="338.35" y1="218.30" x2="338.35" y2="251.30" stroke="#f0f0f0" stroke-width="0.6"/>
<line x1="344.77" y1="218.30" x2="344.77" y2="251.30" stroke="#f0f0f0" stroke-width="0.6"/>
<line x1="351.19" y1="218.30" x2="351.19" y2="251.30" stroke="#f0f0f0" stroke-width="0.6"/>
<line x1="357.61" y1="218.30" x2="357.61" y2="251.30" stroke="#f0f0f0" stroke-width="0.6"/>
<line x1="364.03" y1="218.30" x2="364.03" y2="251.30" stroke="#f0f0f0" stroke-width="0.6"/>
<line x1="370.45" y1="218.30" x2="370.45" y2="251.30" stroke="#f0f0f0" stroke-width="0.6"/>
<line x1="376.87" y1="218.30" x2="376.87" y2="251.30" stroke="#f0f0f0" stroke-width="0.6"/>
<line x1="383.29" y1="218.30" x2="383.29" y2="251.30" stroke="#f0f0f0" stroke-width="0.6"/>
<line x1="389.71" y1="218.30" x2="389.71" y2="251.30" stroke="#f0f0f0" stroke-width="0.6"/>
<line x1="396.13" y1="218.30" x2="396.13" y2="251.30" stroke="#f0f0f0" stroke-width="0.6"/>
<line x1="402.55" y1="218.30" x2="402.55" y2="251.30" stroke="#f0f0f0" stroke-width="0.6"/>
<line x1="261.31" y1="254.70" x2="261.31" y2="288.10" stroke="#f0f0f0" stroke-width="0.6"/>
<line x1="267.73" y1="254.70" x2="267.73" y2="288.10" stroke="#f0f0f0" stroke-width="0.6"/>
<line x1="274.15" y1="254.70" x2="274.15" y2="288.10" stroke="#f0f0f0" stroke-width="0.6"/>
<line x1="280.57" y1="254.70" x2="280.57" y2="288.10" stroke="#f0f0f0" stroke-width="0.6"/>
<line x1="286.99" y1="254.70" x2="286.99" y2="288.10" stroke="#f0f0f0" stroke-width="0.6"/>
<line x1="293.41" y1="254.70" x2="293.41" y2="288.10" stroke="#f0f0f0" stroke-width="0.6"/>
<line x1="299.83" y1="254.70" x2="299.83" y2="288.10" stroke="#f0f0f0" stroke-width="0.6"/>
<line x1="306.25" y1="254.70" x2="306.25" y2="288.10" stroke="#f0f0f0" stroke-width="0.6"/>
<line x1="312.67" y1="254.70" x2="312.67" y2="288.10" stroke="#f0f0f0" stroke-width="0.6"/>
<line x1="319.09" y1="254.70" x2="319.09" y2="288.10" stroke="#f0f0f0" stroke-width="0.6"/>
<line x1="325.51" y1="254.70" x2="325.51" y2="288.10" stroke="#f0f0f0" stroke-width="0.6"/>
<line x1="331.93" y1="254.70" x2="331.93" y2="288.10" stroke="#f0f0f0" stroke-width="0.6"/>
<line x1="338.35" y1="254.70" x2="338.35" y2="288.10" stroke="#f0f0f0" stroke-width="0.6"/>
<line x1="344.77" y1="254.70" x2="344.77" y2="288.10" stroke="#f0f0f0" stroke-width="0.6"/>
<line x1="351.19" y1="254.70" x2="351.19" y2="288.10" stroke="#f0f0f0" stroke-width="0.6"/>
<line x1="357.61" y1="254.70" x2="357.61" y2="288.10" stroke="#f0f0f0" stroke-width="0.6"/>
<line x1="364.03" y1="254.70" x2="364.03" y2="288.10" stroke="#f0f0f0" stroke-width="0.6"/>
<line x1="370.45" y1="254.70" x2="370.45" y2="288.10" stroke="#f0f0f0" stroke-width="0.6"/>
<line x1="376.87" y1="254.70" x2="376.87" y2="288.10" stroke="#f0f0f0" stroke-width="0.6"/>
<line x1="383.29" y1="254.70" x2="383.29" y2="288.10" stroke="#f0f0f0" stroke-width="0.6"/>
<line x1="389.71" y1="254.70" x2="389.71" y2="288.10" stroke="#f0f0f0" stroke-width="0.6"/>
<line x1="396.13" y1="254.70" x2="396.13" y2="288.10" stroke="#f0f0f0" stroke-width="0.6"/>
<line x1="402.55" y1="254.70" x2="402.55" y2="288.10" stroke="#f0f0f0" stroke-width="0.6"/>
<line x1="261.31" y1="291.50" x2="261.31" y2="325.70" stroke="#f0f0f0" stroke-width="0.6"/>
<line x1="267.73" y1="291.50" x2="267.73" y2="325.70" stroke="#f0f0f0" stroke-width="0.6"/>
<line x1="274.15" y1="291.50" x2="274.15" y2="325.70" stroke="#f0f0f0" stroke-width="0.6"/>
<line x1="280.57" y1="291.50" x2="280.57" y2="325.70" stroke="#f0f0f0" stroke-width="0.6"/>
<line x1="286.99" y1="291.50" x2="286.99" y2="325.70" stroke="#f0f0f0" stroke-width="0.6"/>
<line x1="293.41" y1="291.50" x2="293.41" y2="325.70" stroke="#f0f0f0" stroke-width="0.6"/>
<line x1="299.83" y1="291.50" x2="299.83" y2="325.70" stroke="#f0f0f0" stroke-width="0.6"/>
<line x1="306.25" y1="291.50" x2="306.25" y2="325.70" stroke="#f0f0f0" stroke-width="0.6"/>
<line x1="312.67" y1="291.50" x2="312.67" y2="325.70" stroke="#f0f0f0" stroke-width="0.6"/>
<line x1="319.09" y1="291.50" x2="319.09" y2="325.70" stroke="#f0f0f0" stroke-width="0.6"/>
<line x1="325.51" y1="291.50" x2="325.51" y2="325.70" stroke="#f0f0f0" stroke-width="0.6"/>
<line x1="331.93" y1="291.50" x2="331.93" y2="325.70" stroke="#f0f0f0" stroke-width="0.6"/>
<line x1="338.35" y1="291.50" x2="338.35" y2="325.70" stroke="#f0f0f0" stroke-width="0.6"/>
<line x1="344.77" y1="291.50" x2="344.77" y2="325.70" stroke="#f0f0f0" stroke-width="0.6"/>
<line x1="351.19" y1="291.50" x2="351.19" y2="325.70" stroke="#f0f0f0" stroke-width="0.6"/>
<line x1="357.61" y1="291.50" x2="357.61" y2="325.70" stroke="#f0f0f0" stroke-width="0.6"/>
<line x1="364.03" y1="291.50" x2="364.03" y2="325.70" stroke="#f0f0f0" stroke-width="0.6"/>
<line x1="370.45" y1="291.50" x2="370.45" y2="325.70" stroke="#f0f0f0" stroke-width="0.6"/>
<line x1="376.87" y1="291.50" x2="376.87" y2="325.70" stroke="#f0f0f0" stroke-width="0.6"/>
<line x1="383.29" y1="291.50" x2="383.29" y2="325.70" stroke="#f0f0f0" stroke-width="0.6"/>
<line x1="389.71" y1="291.50" x2="389.71" y2="325.70" stroke="#f0f0f0" stroke-width="0.6"/>
<line x1="396.13" y1="291.50" x2="396.13" y2="325.70" stroke="#f0f0f0" stroke-width="0.6"/>
<line x1="402.55" y1="291.50" x2="402.55" y2="325.70" stroke="#f0f0f0" stroke-width="0.6"/>
<line x1="261.31" y1="328.70" x2="261.31" y2="362.50" stroke="#f0f0f0" stroke-width="0.6"/>
<line x1="267.73" y1="328.70" x2="267.73" y2="362.50" stroke="#f0f0f0" stroke-width="0.6"/>
<line x1="274.15" y1="328.70" x2="274.15" y2="362.50" stroke="#f0f0f0" stroke-width="0.6"/>
<line x1="280.57" y1="328.70" x2="280.57" y2="362.50" stroke="#f0f0f0" stroke-width="0.6"/>
<line x1="286.99" y1="328.70" x2="286.99" y2="362.50" stroke="#f0f0f0" stroke-width="0.6"/>
<line x1="293.41" y1="328.70" x2="293.41" y2="362.50" stroke="#f0f0f0" stroke-width="0.6"/>
<line x1="299.83" y1="328.70" x2="299.83" y2="362.50" stroke="#f0f0f0" stroke-width="0.6"/>
<line x1="306.25" y1="328.70" x2="306.25" y2="362.50" stroke="#f0f0f0" stroke-width="0.6"/>
<line x1="312.67" y1="328.70" x2="312.67" y2="362.50" stroke="#f0f0f0" stroke-width="0.6"/>
<line x1="319.09" y1="328.70" x2="319.09" y2="362.50" stroke="#f0f0f0" stroke-width="0.6"/>
<line x1="325.51" y1="328.70" x2="325.51" y2="362.50" stroke="#f0f0f0" stroke-width="0.6"/>
<line x1="331.93" y1="328.70" x2="331.93" y2="362.50" stroke="#f0f0f0" stroke-width="0.6"/>
<line x1="338.35" y1="328.70" x2="338.35" y2="362.50" stroke="#f0f0f0" stroke-width="0.6"/>
<line x1="344.77" y1="328.70" x2="344.77" y2="362.50" stroke="#f0f0f0" stroke-width="0.6"/>
<line x1="351.19" y1="328.70" x2="351.19" y2="362.50" stroke="#f0f0f0" stroke-width="0.6"/>
<line x1="357.61" y1="328.70" x2="357.61" y2="362.50" stroke="#f0f0f0" stroke-width="0.6"/>
<line x1="364.03" y1="328.70" x2="364.03" y2="362.50" stroke="#f0f0f0" stroke-width="0.6"/>
<line x1="370.45" y1="328.70" x2="370.45" y2="362.50" stroke="#f0f0f0" stroke-width="0.6"/>
<line x1="376.87" y1="328.70" x2="376.87" y2="362.50" stroke="#f0f0f0" stroke-width="0.6"/>
<line x1="383.29" y1="328.70" x2="383.29" y2="362.50" stroke="#f0f0f0" stroke-width="0.6"/>
<line x1="389.71" y1="328.70" x2="389.71" y2="362.50" stroke="#f0f0f0" stroke-width="0.6"/>
<line x1="396.13" y1="328.70" x2="396.13" y2="362.50" stroke="#f0f0f0" stroke-width="0.6"/>
<line x1="402.55" y1="328.70" x2="402.55" y2="362.50" stroke="#f0f0f0" stroke-width="0.6"/>
<line x1="419.99" y1="172.70" x2="419.99" y2="214.70" stroke="#f0f0f0" stroke-width="0.6"/>
<line x1="426.37" y1="172.70" x2="426.37" y2="214.70" stroke="#f0f0f0" stroke-width="0.6"/>
<line x1="432.75" y1="172.70" x2="432.75" y2="214.70" stroke="#f0f0f0" stroke-width="0.6"/>
<line x1="439.12" y1="172.70" x2="439.12" y2="214.70" stroke="#f0f0f0" stroke-width="0.6"/>
<line x1="445.50" y1="172.70" x2="445.50" y2="214.70" stroke="#f0f0f0" stroke-width="0.6"/>
<line x1="451.88" y1="172.70" x2="451.88" y2="214.70" stroke="#f0f0f0" stroke-width="0.6"/>
<line x1="458.26" y1="172.70" x2="458.26" y2="214.70" stroke="#f0f0f0" stroke-width="0.6"/>
<line x1="464.64" y1="172.70" x2="464.64" y2="214.70" stroke="#f0f0f0" stroke-width="0.6"/>
<line x1="471.01" y1="172.70" x2="471.01" y2="214.70" stroke="#f0f0f0" stroke-width="0.6"/>
<line x1="477.39" y1="172.70" x2="477.39" y2="214.70" stroke="#f0f0f0" stroke-width="0.6"/>
<line x1="483.77" y1="172.70" x2="483.77" y2="214.70" stroke="#f0f0f0" stroke-width="0.6"/>
<line x1="490.15" y1="172.70" x2="490.15" y2="214.70" stroke="#f0f0f0" stroke-width="0.6"/>
<line x1="496.53" y1="172.70" x2="496.53" y2="214.70" stroke="#f0f0f0" stroke-width="0.6"/>
<line x1="419.99" y1="218.30" x2="419.99" y2="251.30" stroke="#f0f0f0" stroke-width="0.6"/>
<line x1="426.37" y1="218.30" x2="426.37" y2="251.30" stroke="#f0f0f0" stroke-width="0.6"/>
<line x1="432.75" y1="218.30" x2="432.75" y2="251.30" stroke="#f0f0f0" stroke-width="0.6"/>
<line x1="439.12" y1="218.30" x2="439.12" y2="251.30" stroke="#f0f0f0" stroke-width="0.6"/>
<line x1="445.50" y1="218.30" x2="445.50" y2="251.30" stroke="#f0f0f0" stroke-width="0.6"/>
<line x1="451.88" y1="218.30" x2="451.88" y2="251.30" stroke="#f0f0f0" stroke-width="0.6"/>
<line x1="458.26" y1="218.30" x2="458.26" y2="251.30" stroke="#f0f0f0" stroke-width="0.6"/>
<line x1="464.64" y1="218.30" x2="464.64" y2="251.30" stroke="#f0f0f0" stroke-width="0.6"/>
<line x1="471.01" y1="218.30" x2="471.01" y2="251.30" stroke="#f0f0f0" stroke-width="0.6"/>
<line x1="477.39" y1="218.30" x2="477.39" y2="251.30" stroke="#f0f0f0" stroke-width="0.6"/>
<line x1="483.77" y1="218.30" x2="483.77" y2="251.30" stroke="#f0f0f0" stroke-width="0.6"/>
<line x1="490.15" y1="218.30" x2="490.15" y2="251.30" stroke="#f0f0f0" stroke-width="0.6"/>
<line x1="496.53" y1="218.30" x2="496.53" y2="251.30" stroke="#f0f0f0" stroke-width="0.6"/>
<line x1="419.99" y1="254.70" x2="419.99" y2="288.10" stroke="#f0f0f0" stroke-width="0.6"/>
<line x1="426.37" y1="254.70" x2="426.37" y2="288.10" stroke="#f0f0f0" stroke-width="0.6"/>
<line x1="432.75" y1="254.70" x2="432.75" y2="288.10" stroke="#f0f0f0" stroke-width="0.6"/>
<line x1="439.12" y1="254.70" x2="439.12" y2="288.10" stroke="#f0f0f0" stroke-width="0.6"/>
<line x1="445.50" y1="254.70" x2="445.50" y2="288.10" stroke="#f0f0f0" stroke-width="0.6"/>
<line x1="451.88" y1="254.70" x2="451.88" y2="288.10" stroke="#f0f0f0" stroke-width="0.6"/>
<line x1="458.26" y1="254.70" x2="458.26" y2="288.10" stroke="#f0f0f0" stroke-width="0.6"/>
<line x1="464.64" y1="254.70" x2="464.64" y2="288.10" stroke="#f0f0f0" stroke-width="0.6"/>
<line x1="471.01" y1="254.70" x2="471.01" y2="288.10" stroke="#f0f0f0" stroke-width="0.6"/>
<line x1="477.39" y1="254.70" x2="477.39" y2="288.10" stroke="#f0f0f0" stroke-width="0.6"/>
<line x1="483.77" y1="254.70" x2="483.77" y2="288.10" stroke="#f0f0f0" stroke-width="0.6"/>
<line x1="490.15" y1="254.70" x2="490.15" y2="288.10" stroke="#f0f0f0" stroke-width="0.6"/>
<line x1="496.53" y1="254.70" x2="496.53" y2="288.10" stroke="#f0f0f0" stroke-width="0.6"/>
<line x1="419.99" y1="291.50" x2="419.99" y2="325.70" stroke="#f0f0f0" stroke-width="0.6"/>
<line x1="426.37" y1="291.50" x2="426.37" y2="325.70" stroke="#f0f0f0" stroke-width="0.6"/>
<line x1="432.75" y1="291.50" x2="432.75" y2="325.70" stroke="#f0f0f0" stroke-width="0.6"/>
<line x1="439.12" y1="291.50" x2="439.12" y2="325.70" stroke="#f0f0f0" stroke-width="0.6"/>
<line x1="445.50" y1="291.50" x2="445.50" y2="325.70" stroke="#f0f0f0" stroke-width="0.6"/>
<line x1="451.88" y1="291.50" x2="451.88" y2="325.70" stroke="#f0f0f0" stroke-width="0.6"/>
<line x1="458.26" y1="291.50" x2="458.26" y2="325.70" stroke="#f0f0f0" stroke-width="0.6"/>
<line x1="464.64" y1="291.50" x2="464.64" y2="325.70" stroke="#f0f0f0" stroke-width="0.6"/>
<line x1="471.01" y1="291.50" x2="471.01" y2="325.70" stroke="#f0f0f0" stroke-width="0.6"/>
<line x1="477.39" y1="291.50" x2="477.39" y2="325.70" stroke="#f0f0f0" stroke-width="0.6"/>
<line x1="483.77" y1="291.50" x2="483.77" y2="325.70" stroke="#f0f0f0" stroke-width="0.6"/>
<line x1="490.15" y1="291.50" x2="490.15" y2="325.70" stroke="#f0f0f0" stroke-width="0.6"/>
<line x1="496.53" y1="291.50" x2="496.53" y2="325.70" stroke="#f0f0f0" stroke-width="0.6"/>
<line x1="419.99" y1="328.70" x2="419.99" y2="362.50" stroke="#f0f0f0" stroke-width="0.6"/>
<line x1="426.37" y1="328.70" x2="426.37" y2="362.50" stroke="#f0f0f0" stroke-width="0.6"/>
<line x1="432.75" y1="328.70" x2="432.75" y2="362.50" stroke="#f0f0f0" stroke-width="0.6"/>
<line x1="439.12" y1="328.70" x2="439.12" y2="362.50" stroke="#f0f0f0" stroke-width="0.6"/>
<line x1="445.50" y1="328.70" x2="445.50" y2="362.50" stroke="#f0f0f0" stroke-width="0.6"/>
<line x1="451.88" y1="328.70" x2="451.88" y2="362.50" stroke="#f0f0f0" stroke-width="0.6"/>
<line x1="458.26" y1="328.70" x2="458.26" y2="362.50" stroke="#f0f0f0" stroke-width="0.6"/>
<line x1="464.64" y1="328.70" x2="464.64" y2="362.50" stroke="#f0f0f0" stroke-width="0.6"/>
<line x1="471.01" y1="328.70" x2="471.01" y2="362.50" stroke="#f0f0f0" stroke-width="0.6"/>
<line x1="477.39" y1="328.70" x2="477.39" y2="362.50" stroke="#f0f0f0" stroke-width="0.6"/>
<line x1="483.77" y1="328.70" x2="483.77" y2="362.50" stroke="#f0f0f0" stroke-width="0.6"/>
<line x1="490.15" y1="328.70" x2="490.15" y2="362.50" stroke="#f0f0f0" stroke-width="0.6"/>
<line x1="496.53" y1="328.70" x2="496.53" y2="362.50" stroke="#f0f0f0" stroke-width="0.6"/>
<line x1="13.30" y1="172.20" x2="13.30" y2="215.20" stroke="#555" stroke-width="0.8"/>
<line x1="11.70" y1="174.00" x2="13.30" y2="174.00" stroke="#555" stroke-width="0.7"/>
<text x="11.00" y="175.50" font-size="4.3" font-weight="normal" text-anchor="end" fill="#222" stroke="#222" stroke-width="0.12">100</text>
<line x1="11.70" y1="183.50" x2="13.30" y2="183.50" stroke="#555" stroke-width="0.7"/>
<text x="11.00" y="185.00" font-size="4.3" font-weight="normal" text-anchor="end" fill="#222" stroke="#222" stroke-width="0.12">50</text>
<line x1="11.70" y1="193.00" x2="13.30" y2="193.00" stroke="#555" stroke-width="0.7"/>
<text x="11.00" y="194.50" font-size="4.3" font-weight="normal" text-anchor="end" fill="#222" stroke="#222" stroke-width="0.12">0</text>
<line x1="11.70" y1="202.50" x2="13.30" y2="202.50" stroke="#555" stroke-width="0.7"/>
<text x="11.00" y="204.00" font-size="4.3" font-weight="normal" text-anchor="end" fill="#222" stroke="#222" stroke-width="0.12">–50</text>
<line x1="11.70" y1="212.00" x2="13.30" y2="212.00" stroke="#555" stroke-width="0.7"/>
<text x="11.00" y="213.50" font-size="4.3" font-weight="normal" text-anchor="end" fill="#222" stroke="#222" stroke-width="0.12">–100</text>
<line x1="13.30" y1="217.80" x2="13.30" y2="251.80" stroke="#555" stroke-width="0.8"/>
<line x1="11.70" y1="218.50" x2="13.30" y2="218.50" stroke="#555" stroke-width="0.7"/>
<text x="11.00" y="220.00" font-size="4.3" font-weight="normal" text-anchor="end" fill="#222" stroke="#222" stroke-width="0.12">12</text>
<line x1="11.70" y1="226.60" x2="13.30" y2="226.60" stroke="#555" stroke-width="0.7"/>
<text x="11.00" y="228.10" font-size="4.3" font-weight="normal" text-anchor="end" fill="#222" stroke="#222" stroke-width="0.12">9</text>
<line x1="11.70" y1="234.70" x2="13.30" y2="234.70" stroke="#555" stroke-width="0.7"/>
<text x="11.00" y="236.20" font-size="4.3" font-weight="normal" text-anchor="end" fill="#222" stroke="#222" stroke-width="0.12">6</text>
<line x1="11.70" y1="242.80" x2="13.30" y2="242.80" stroke="#555" stroke-width="0.7"/>
<text x="11.00" y="244.30" font-size="4.3" font-weight="normal" text-anchor="end" fill="#222" stroke="#222" stroke-width="0.12">3</text>
<line x1="11.70" y1="250.90" x2="13.30" y2="250.90" stroke="#555" stroke-width="0.7"/>
<text x="11.00" y="252.40" font-size="4.3" font-weight="normal" text-anchor="end" fill="#222" stroke="#222" stroke-width="0.12">0</text>
<line x1="13.30" y1="254.20" x2="13.30" y2="288.60" stroke="#555" stroke-width="0.8"/>
<line x1="11.70" y1="255.70" x2="13.30" y2="255.70" stroke="#555" stroke-width="0.7"/>
<text x="11.00" y="257.20" font-size="4.3" font-weight="normal" text-anchor="end" fill="#222" stroke="#222" stroke-width="0.12">25</text>
<line x1="11.70" y1="262.10" x2="13.30" y2="262.10" stroke="#555" stroke-width="0.7"/>
<text x="11.00" y="263.60" font-size="4.3" font-weight="normal" text-anchor="end" fill="#222" stroke="#222" stroke-width="0.12">20</text>
<line x1="11.70" y1="268.50" x2="13.30" y2="268.50" stroke="#555" stroke-width="0.7"/>
<text x="11.00" y="270.00" font-size="4.3" font-weight="normal" text-anchor="end" fill="#222" stroke="#222" stroke-width="0.12">15</text>
<line x1="11.70" y1="274.90" x2="13.30" y2="274.90" stroke="#555" stroke-width="0.7"/>
<text x="11.00" y="276.40" font-size="4.3" font-weight="normal" text-anchor="end" fill="#222" stroke="#222" stroke-width="0.12">10</text>
<line x1="11.70" y1="281.30" x2="13.30" y2="281.30" stroke="#555" stroke-width="0.7"/>
<text x="11.00" y="282.80" font-size="4.3" font-weight="normal" text-anchor="end" fill="#222" stroke="#222" stroke-width="0.12">5</text>
<line x1="11.70" y1="287.70" x2="13.30" y2="287.70" stroke="#555" stroke-width="0.7"/>
<text x="11.00" y="289.20" font-size="4.3" font-weight="normal" text-anchor="end" fill="#222" stroke="#222" stroke-width="0.12">0</text>
<line x1="13.30" y1="291.00" x2="13.30" y2="326.20" stroke="#555" stroke-width="0.8"/>
<line x1="11.70" y1="292.75" x2="13.30" y2="292.75" stroke="#555" stroke-width="0.7"/>
<text x="11.00" y="294.25" font-size="4.3" font-weight="normal" text-anchor="end" fill="#222" stroke="#222" stroke-width="0.12">25</text>
<line x1="11.70" y1="299.10" x2="13.30" y2="299.10" stroke="#555" stroke-width="0.7"/>
<text x="11.00" y="300.60" font-size="4.3" font-weight="normal" text-anchor="end" fill="#222" stroke="#222" stroke-width="0.12">20</text>
<line x1="11.70" y1="305.45" x2="13.30" y2="305.45" stroke="#555" stroke-width="0.7"/>
<text x="11.00" y="306.95" font-size="4.3" font-weight="normal" text-anchor="end" fill="#222" stroke="#222" stroke-width="0.12">15</text>
<line x1="11.70" y1="311.80" x2="13.30" y2="311.80" stroke="#555" stroke-width="0.7"/>
<text x="11.00" y="313.30" font-size="4.3" font-weight="normal" text-anchor="end" fill="#222" stroke="#222" stroke-width="0.12">10</text>
<line x1="11.70" y1="318.15" x2="13.30" y2="318.15" stroke="#555" stroke-width="0.7"/>
<text x="11.00" y="319.65" font-size="4.3" font-weight="normal" text-anchor="end" fill="#222" stroke="#222" stroke-width="0.12">5</text>
<line x1="11.70" y1="324.50" x2="13.30" y2="324.50" stroke="#555" stroke-width="0.7"/>
<text x="11.00" y="326.00" font-size="4.3" font-weight="normal" text-anchor="end" fill="#222" stroke="#222" stroke-width="0.12">0</text>
<line x1="13.30" y1="328.20" x2="13.30" y2="363.00" stroke="#555" stroke-width="0.8"/>
<line x1="11.70" y1="329.40" x2="13.30" y2="329.40" stroke="#555" stroke-width="0.7"/>
<text x="11.00" y="330.90" font-size="4.3" font-weight="normal" text-anchor="end" fill="#222" stroke="#222" stroke-width="0.12">20</text>
<line x1="11.70" y1="337.38" x2="13.30" y2="337.38" stroke="#555" stroke-width="0.7"/>
<text x="11.00" y="338.88" font-size="4.3" font-weight="normal" text-anchor="end" fill="#222" stroke="#222" stroke-width="0.12">15</text>
<line x1="11.70" y1="345.35" x2="13.30" y2="345.35" stroke="#555" stroke-width="0.7"/>
<text x="11.00" y="346.85" font-size="4.3" font-weight="normal" text-anchor="end" fill="#222" stroke="#222" stroke-width="0.12">10</text>
<line x1="11.70" y1="353.32" x2="13.30" y2="353.32" stroke="#555" stroke-width="0.7"/>
<text x="11.00" y="354.82" font-size="4.3" font-weight="normal" text-anchor="end" fill="#222" stroke="#222" stroke-width="0.12">5</text>
<line x1="11.70" y1="361.30" x2="13.30" y2="361.30" stroke="#555" stroke-width="0.7"/>
<text x="11.00" y="362.80" font-size="4.3" font-weight="normal" text-anchor="end" fill="#222" stroke="#222" stroke-width="0.12">0</text>
<line x1="253.60" y1="172.20" x2="253.60" y2="215.20" stroke="#555" stroke-width="0.8"/>
<line x1="252.00" y1="173.80" x2="253.60" y2="173.80" stroke="#555" stroke-width="0.7"/>
<text x="251.30" y="175.30" font-size="4.3" font-weight="normal" text-anchor="end" fill="#222" stroke="#222" stroke-width="0.12">100</text>
<line x1="252.00" y1="183.30" x2="253.60" y2="183.30" stroke="#555" stroke-width="0.7"/>
<text x="251.30" y="184.80" font-size="4.3" font-weight="normal" text-anchor="end" fill="#222" stroke="#222" stroke-width="0.12">50</text>
<line x1="252.00" y1="192.80" x2="253.60" y2="192.80" stroke="#555" stroke-width="0.7"/>
<text x="251.30" y="194.30" font-size="4.3" font-weight="normal" text-anchor="end" fill="#222" stroke="#222" stroke-width="0.12">0</text>
<line x1="252.00" y1="202.30" x2="253.60" y2="202.30" stroke="#555" stroke-width="0.7"/>
<text x="251.30" y="203.80" font-size="4.3" font-weight="normal" text-anchor="end" fill="#222" stroke="#222" stroke-width="0.12">–50</text>
<line x1="252.00" y1="211.80" x2="253.60" y2="211.80" stroke="#555" stroke-width="0.7"/>
<text x="251.30" y="213.30" font-size="4.3" font-weight="normal" text-anchor="end" fill="#222" stroke="#222" stroke-width="0.12">–100</text>
<line x1="253.60" y1="217.80" x2="253.60" y2="251.80" stroke="#555" stroke-width="0.8"/>
<line x1="252.00" y1="219.00" x2="253.60" y2="219.00" stroke="#555" stroke-width="0.7"/>
<text x="251.30" y="220.50" font-size="4.3" font-weight="normal" text-anchor="end" fill="#222" stroke="#222" stroke-width="0.12">50</text>
<line x1="252.00" y1="225.34" x2="253.60" y2="225.34" stroke="#555" stroke-width="0.7"/>
<text x="251.30" y="226.84" font-size="4.3" font-weight="normal" text-anchor="end" fill="#222" stroke="#222" stroke-width="0.12">40</text>
<line x1="252.00" y1="231.68" x2="253.60" y2="231.68" stroke="#555" stroke-width="0.7"/>
<text x="251.30" y="233.18" font-size="4.3" font-weight="normal" text-anchor="end" fill="#222" stroke="#222" stroke-width="0.12">30</text>
<line x1="252.00" y1="238.02" x2="253.60" y2="238.02" stroke="#555" stroke-width="0.7"/>
<text x="251.30" y="239.52" font-size="4.3" font-weight="normal" text-anchor="end" fill="#222" stroke="#222" stroke-width="0.12">20</text>
<line x1="252.00" y1="244.36" x2="253.60" y2="244.36" stroke="#555" stroke-width="0.7"/>
<text x="251.30" y="245.86" font-size="4.3" font-weight="normal" text-anchor="end" fill="#222" stroke="#222" stroke-width="0.12">10</text>
<line x1="252.00" y1="250.70" x2="253.60" y2="250.70" stroke="#555" stroke-width="0.7"/>
<text x="251.30" y="252.20" font-size="4.3" font-weight="normal" text-anchor="end" fill="#222" stroke="#222" stroke-width="0.12">0</text>
<line x1="253.60" y1="254.20" x2="253.60" y2="288.60" stroke="#555" stroke-width="0.8"/>
<line x1="252.00" y1="255.80" x2="253.60" y2="255.80" stroke="#555" stroke-width="0.7"/>
<text x="251.30" y="257.30" font-size="4.3" font-weight="normal" text-anchor="end" fill="#222" stroke="#222" stroke-width="0.12">50</text>
<line x1="252.00" y1="262.16" x2="253.60" y2="262.16" stroke="#555" stroke-width="0.7"/>
<text x="251.30" y="263.66" font-size="4.3" font-weight="normal" text-anchor="end" fill="#222" stroke="#222" stroke-width="0.12">40</text>
<line x1="252.00" y1="268.52" x2="253.60" y2="268.52" stroke="#555" stroke-width="0.7"/>
<text x="251.30" y="270.02" font-size="4.3" font-weight="normal" text-anchor="end" fill="#222" stroke="#222" stroke-width="0.12">30</text>
<line x1="252.00" y1="274.88" x2="253.60" y2="274.88" stroke="#555" stroke-width="0.7"/>
<text x="251.30" y="276.38" font-size="4.3" font-weight="normal" text-anchor="end" fill="#222" stroke="#222" stroke-width="0.12">20</text>
<line x1="252.00" y1="281.24" x2="253.60" y2="281.24" stroke="#555" stroke-width="0.7"/>
<text x="251.30" y="282.74" font-size="4.3" font-weight="normal" text-anchor="end" fill="#222" stroke="#222" stroke-width="0.12">10</text>
<line x1="252.00" y1="287.60" x2="253.60" y2="287.60" stroke="#555" stroke-width="0.7"/>
<text x="251.30" y="289.10" font-size="4.3" font-weight="normal" text-anchor="end" fill="#222" stroke="#222" stroke-width="0.12">0</text>
<line x1="253.60" y1="291.00" x2="253.60" y2="326.20" stroke="#555" stroke-width="0.8"/>
<line x1="252.00" y1="292.30" x2="253.60" y2="292.30" stroke="#555" stroke-width="0.7"/>
<text x="251.30" y="293.80" font-size="4.3" font-weight="normal" text-anchor="end" fill="#222" stroke="#222" stroke-width="0.12">5</text>
<line x1="252.00" y1="298.70" x2="253.60" y2="298.70" stroke="#555" stroke-width="0.7"/>
<text x="251.30" y="300.20" font-size="4.3" font-weight="normal" text-anchor="end" fill="#222" stroke="#222" stroke-width="0.12">4</text>
<line x1="252.00" y1="305.10" x2="253.60" y2="305.10" stroke="#555" stroke-width="0.7"/>
<text x="251.30" y="306.60" font-size="4.3" font-weight="normal" text-anchor="end" fill="#222" stroke="#222" stroke-width="0.12">3</text>
<line x1="252.00" y1="311.50" x2="253.60" y2="311.50" stroke="#555" stroke-width="0.7"/>
<text x="251.30" y="313.00" font-size="4.3" font-weight="normal" text-anchor="end" fill="#222" stroke="#222" stroke-width="0.12">2</text>
<line x1="252.00" y1="317.90" x2="253.60" y2="317.90" stroke="#555" stroke-width="0.7"/>
<text x="251.30" y="319.40" font-size="4.3" font-weight="normal" text-anchor="end" fill="#222" stroke="#222" stroke-width="0.12">1</text>
<line x1="252.00" y1="324.30" x2="253.60" y2="324.30" stroke="#555" stroke-width="0.7"/>
<text x="251.30" y="325.80" font-size="4.3" font-weight="normal" text-anchor="end" fill="#222" stroke="#222" stroke-width="0.12">0</text>
<line x1="253.60" y1="328.20" x2="253.60" y2="363.00" stroke="#555" stroke-width="0.8"/>
<line x1="252.00" y1="329.80" x2="253.60" y2="329.80" stroke="#555" stroke-width="0.7"/>
<text x="251.30" y="331.30" font-size="4.3" font-weight="normal" text-anchor="end" fill="#222" stroke="#222" stroke-width="0.12">5</text>
<line x1="252.00" y1="336.14" x2="253.60" y2="336.14" stroke="#555" stroke-width="0.7"/>
<text x="251.30" y="337.64" font-size="4.3" font-weight="normal" text-anchor="end" fill="#222" stroke="#222" stroke-width="0.12">4</text>
<line x1="252.00" y1="342.48" x2="253.60" y2="342.48" stroke="#555" stroke-width="0.7"/>
<text x="251.30" y="343.98" font-size="4.3" font-weight="normal" text-anchor="end" fill="#222" stroke="#222" stroke-width="0.12">3</text>
<line x1="252.00" y1="348.82" x2="253.60" y2="348.82" stroke="#555" stroke-width="0.7"/>
<text x="251.30" y="350.32" font-size="4.3" font-weight="normal" text-anchor="end" fill="#222" stroke="#222" stroke-width="0.12">2</text>
<line x1="252.00" y1="355.16" x2="253.60" y2="355.16" stroke="#555" stroke-width="0.7"/>
<text x="251.30" y="356.66" font-size="4.3" font-weight="normal" text-anchor="end" fill="#222" stroke="#222" stroke-width="0.12">1</text>
<line x1="252.00" y1="361.50" x2="253.60" y2="361.50" stroke="#555" stroke-width="0.7"/>
<text x="251.30" y="363.00" font-size="4.3" font-weight="normal" text-anchor="end" fill="#222" stroke="#222" stroke-width="0.12">0</text>
<line x1="13.30" y1="363.00" x2="183.40" y2="363.00" stroke="#555" stroke-width="0.8"/>
<line x1="185.60" y1="363.00" x2="220.80" y2="363.00" stroke="#555" stroke-width="0.8"/>
<line x1="253.60" y1="363.00" x2="410.50" y2="363.00" stroke="#555" stroke-width="0.8"/>
<line x1="412.50" y1="363.00" x2="503.80" y2="363.00" stroke="#555" stroke-width="0.8"/>
<text x="120.60" y="369.80" font-size="5.3" font-weight="normal" text-anchor="middle" fill="#222">Subject</text>
<text x="379.80" y="369.80" font-size="5.3" font-weight="normal" text-anchor="middle" fill="#222">Subject</text>
<rect x="14.85" y="175.90" width="7.60" height="17.10" fill="#c63a2c" stroke="none" stroke-width="1"/>
<text x="18.65" y="174.90" font-size="4.1" font-weight="normal" text-anchor="middle" fill="#333" stroke="#333" stroke-width="0.12">PD</text>
<rect x="23.66" y="181.22" width="7.60" height="11.78" fill="#ec6426" stroke="none" stroke-width="1"/>
<text x="27.46" y="180.22" font-size="4.1" font-weight="normal" text-anchor="middle" fill="#333" stroke="#333" stroke-width="0.12">PD</text>
<rect x="32.47" y="186.16" width="7.60" height="6.84" fill="#f5a024" stroke="none" stroke-width="1"/>
<text x="36.27" y="185.16" font-size="4.1" font-weight="normal" text-anchor="middle" fill="#333" stroke="#333" stroke-width="0.12">PD</text>
<rect x="41.28" y="186.73" width="7.60" height="6.27" fill="#7c95b4" stroke="none" stroke-width="1"/>
<text x="45.08" y="185.73" font-size="4.1" font-weight="normal" text-anchor="middle" fill="#333" stroke="#333" stroke-width="0.12">PD</text>
<path d="M45.08,178.83 L46.07,180.13 L45.08,181.43 L44.09,180.13 Z" fill="#111" stroke="none" stroke-width="1"/>
<rect x="50.09" y="189.01" width="7.60" height="3.99" fill="#f5a024" stroke="none" stroke-width="1"/>
<text x="53.89" y="188.01" font-size="4.1" font-weight="normal" text-anchor="middle" fill="#333" stroke="#333" stroke-width="0.12">PD</text>
<rect x="58.90" y="191.10" width="7.60" height="1.90" fill="#8a1717" stroke="none" stroke-width="1"/>
<text x="62.70" y="190.10" font-size="4.1" font-weight="normal" text-anchor="middle" fill="#333" stroke="#333" stroke-width="0.12">PD</text>
<rect x="67.71" y="191.48" width="7.60" height="1.52" fill="#c63a2c" stroke="none" stroke-width="1"/>
<text x="71.51" y="190.48" font-size="4.1" font-weight="normal" text-anchor="middle" fill="#333" stroke="#333" stroke-width="0.12">PD</text>
<line x1="70.21" y1="184.88" x2="72.81" y2="184.88" stroke="#111" stroke-width="0.7"/>
<line x1="71.51" y1="183.58" x2="71.51" y2="186.18" stroke="#111" stroke-width="0.7"/>
<text x="80.32" y="192.00" font-size="4.1" font-weight="normal" text-anchor="middle" fill="#333" stroke="#333" stroke-width="0.12">PD</text>
<path d="M80.32,185.10 L81.31,186.40 L80.32,187.70 L79.33,186.40 Z" fill="#111" stroke="none" stroke-width="1"/>
<rect x="85.33" y="193.00" width="7.60" height="8.93" fill="#ec6426" stroke="none" stroke-width="1"/>
<text x="89.13" y="205.93" font-size="4.1" font-weight="normal" text-anchor="middle" fill="#333" stroke="#333" stroke-width="0.12">PR</text>
<rect x="94.14" y="193.00" width="7.60" height="14.25" fill="#1f5fa8" stroke="none" stroke-width="1"/>
<text x="97.94" y="211.25" font-size="4.1" font-weight="normal" text-anchor="middle" fill="#333" stroke="#333" stroke-width="0.12">PR</text>
<rect x="102.95" y="193.00" width="7.60" height="14.82" fill="#9b7b7d" stroke="none" stroke-width="1"/>
<text x="106.75" y="211.82" font-size="4.1" font-weight="normal" text-anchor="middle" fill="#333" stroke="#333" stroke-width="0.12">PR</text>
<rect x="111.76" y="193.00" width="7.60" height="15.77" fill="#9b7b7d" stroke="none" stroke-width="1"/>
<text x="115.56" y="212.77" font-size="4.1" font-weight="normal" text-anchor="middle" fill="#333" stroke="#333" stroke-width="0.12">CR</text>
<line x1="123.52" y1="193.00" x2="125.22" y2="193.00" stroke="#333" stroke-width="0.7"/>
<line x1="124.37" y1="192.15" x2="124.37" y2="193.85" stroke="#333" stroke-width="0.7"/>
<line x1="132.33" y1="193.00" x2="134.03" y2="193.00" stroke="#333" stroke-width="0.7"/>
<line x1="133.18" y1="192.15" x2="133.18" y2="193.85" stroke="#333" stroke-width="0.7"/>
<line x1="141.14" y1="193.00" x2="142.84" y2="193.00" stroke="#333" stroke-width="0.7"/>
<line x1="141.99" y1="192.15" x2="141.99" y2="193.85" stroke="#333" stroke-width="0.7"/>
<line x1="149.95" y1="193.00" x2="151.65" y2="193.00" stroke="#333" stroke-width="0.7"/>
<line x1="150.80" y1="192.15" x2="150.80" y2="193.85" stroke="#333" stroke-width="0.7"/>
<line x1="158.76" y1="193.00" x2="160.46" y2="193.00" stroke="#333" stroke-width="0.7"/>
<line x1="159.61" y1="192.15" x2="159.61" y2="193.85" stroke="#333" stroke-width="0.7"/>
<line x1="167.57" y1="193.00" x2="169.27" y2="193.00" stroke="#333" stroke-width="0.7"/>
<line x1="168.42" y1="192.15" x2="168.42" y2="193.85" stroke="#333" stroke-width="0.7"/>
<line x1="176.38" y1="193.00" x2="178.08" y2="193.00" stroke="#333" stroke-width="0.7"/>
<line x1="177.23" y1="192.15" x2="177.23" y2="193.85" stroke="#333" stroke-width="0.7"/>
<rect x="185.80" y="184.07" width="7.60" height="8.93" fill="#ec6426" stroke="none" stroke-width="1"/>
<text x="189.60" y="183.07" font-size="4.1" font-weight="normal" text-anchor="middle" fill="#333" stroke="#333" stroke-width="0.12">PD</text>
<path d="M189.60,176.17 L190.59,177.47 L189.60,178.77 L188.61,177.47 Z" fill="#111" stroke="none" stroke-width="1"/>
<rect x="194.67" y="191.48" width="7.60" height="1.52" fill="#c63a2c" stroke="none" stroke-width="1"/>
<text x="198.47" y="190.48" font-size="4.1" font-weight="normal" text-anchor="middle" fill="#333" stroke="#333" stroke-width="0.12">SD</text>
<path d="M198.47,183.58 L199.46,184.88 L198.47,186.18 L197.48,184.88 Z" fill="#111" stroke="none" stroke-width="1"/>
<rect x="203.54" y="193.00" width="7.60" height="3.61" fill="#ec6426" stroke="none" stroke-width="1"/>
<text x="207.34" y="200.61" font-size="4.1" font-weight="normal" text-anchor="middle" fill="#333" stroke="#333" stroke-width="0.12">PD</text>
<line x1="206.54" y1="190.60" x2="208.14" y2="190.60" stroke="#222" stroke-width="0.7"/>
<line x1="207.34" y1="189.80" x2="207.34" y2="191.40" stroke="#222" stroke-width="0.7"/>
<line x1="215.36" y1="193.00" x2="217.06" y2="193.00" stroke="#333" stroke-width="0.7"/>
<line x1="216.21" y1="192.15" x2="216.21" y2="193.85" stroke="#333" stroke-width="0.7"/>
<rect x="255.35" y="179.50" width="5.50" height="13.30" fill="#8a1717" stroke="none" stroke-width="1"/>
<text x="258.10" y="178.50" font-size="3.8" font-weight="normal" text-anchor="middle" fill="#3f8f60" stroke="#3f8f60" stroke-width="0.12">PD</text>
<path d="M258.10,172.05 L258.97,173.20 L258.10,174.35 L257.23,173.20 Z" fill="#111" stroke="none" stroke-width="1"/>
<text x="259.30" y="195.80" font-size="3.4" font-weight="bold" text-anchor="start" fill="#66686f" transform="rotate(90 259.30 195.80)" textLength="14.5" lengthAdjust="spacingAndGlyphs" stroke="#66686f" stroke-width="0.25">Melanoma</text>
<rect x="261.77" y="189.95" width="5.50" height="2.85" fill="#7c95b4" stroke="none" stroke-width="1"/>
<text x="264.52" y="188.95" font-size="3.8" font-weight="normal" text-anchor="middle" fill="#5f6b78" stroke="#5f6b78" stroke-width="0.12">PD</text>
<path d="M264.52,182.50 L265.39,183.65 L264.52,184.80 L263.65,183.65 Z" fill="#111" stroke="none" stroke-width="1"/>
<text x="265.72" y="195.80" font-size="3.4" font-weight="bold" text-anchor="start" fill="#66686f" transform="rotate(90 265.72 195.80)" textLength="14.5" lengthAdjust="spacingAndGlyphs" stroke="#66686f" stroke-width="0.25">Melanoma</text>
<rect x="268.19" y="189.95" width="5.50" height="2.85" fill="#ec6426" stroke="none" stroke-width="1"/>
<text x="270.94" y="188.95" font-size="3.8" font-weight="normal" text-anchor="middle" fill="#5f6b78" stroke="#5f6b78" stroke-width="0.12">PD</text>
<path d="M270.94,182.50 L271.81,183.65 L270.94,184.80 L270.07,183.65 Z" fill="#111" stroke="none" stroke-width="1"/>
<text x="270.79" y="195.80" font-size="3.4" font-weight="bold" text-anchor="start" fill="#66686f" transform="rotate(90 270.79 195.80)" textLength="14.5" lengthAdjust="spacingAndGlyphs" stroke="#66686f" stroke-width="0.25">Melanoma</text>
<text x="273.49" y="195.80" font-size="3.4" font-weight="bold" text-anchor="start" fill="#66686f" transform="rotate(90 273.49 195.80)" textLength="14.5" lengthAdjust="spacingAndGlyphs" stroke="#66686f" stroke-width="0.25">Melanoma</text>
<rect x="274.61" y="189.95" width="5.50" height="2.85" fill="#ec6426" stroke="none" stroke-width="1"/>
<text x="277.36" y="188.95" font-size="3.8" font-weight="normal" text-anchor="middle" fill="#5f6b78" stroke="#5f6b78" stroke-width="0.12">PD</text>
<path d="M277.36,182.50 L278.23,183.65 L277.36,184.80 L276.49,183.65 Z" fill="#111" stroke="none" stroke-width="1"/>
<text x="277.21" y="195.80" font-size="3.4" font-weight="bold" text-anchor="start" fill="#66686f" transform="rotate(90 277.21 195.80)" textLength="14.5" lengthAdjust="spacingAndGlyphs" stroke="#66686f" stroke-width="0.25">Melanoma</text>
<text x="279.91" y="195.80" font-size="3.4" font-weight="bold" text-anchor="start" fill="#66686f" transform="rotate(90 279.91 195.80)" textLength="14.5" lengthAdjust="spacingAndGlyphs" stroke="#66686f" stroke-width="0.25">Melanoma</text>
<rect x="281.03" y="190.52" width="5.50" height="2.28" fill="#ec6426" stroke="none" stroke-width="1"/>
<text x="283.78" y="189.52" font-size="3.8" font-weight="normal" text-anchor="middle" fill="#5f6b78" stroke="#5f6b78" stroke-width="0.12">SD</text>
<path d="M283.78,183.07 L284.65,184.22 L283.78,185.37 L282.91,184.22 Z" fill="#111" stroke="none" stroke-width="1"/>
<text x="284.98" y="195.80" font-size="3.4" font-weight="bold" text-anchor="start" fill="#66686f" transform="rotate(90 284.98 195.80)" textLength="14.5" lengthAdjust="spacingAndGlyphs" stroke="#66686f" stroke-width="0.25">Melanoma</text>
<rect x="287.45" y="190.90" width="5.50" height="1.90" fill="#f5a024" stroke="none" stroke-width="1"/>
<text x="290.20" y="189.90" font-size="3.8" font-weight="normal" text-anchor="middle" fill="#5f6b78" stroke="#5f6b78" stroke-width="0.12">PD</text>
<path d="M290.20,183.45 L291.07,184.60 L290.20,185.75 L289.33,184.60 Z" fill="#111" stroke="none" stroke-width="1"/>
<text x="291.40" y="195.80" font-size="3.4" font-weight="bold" text-anchor="start" fill="#66686f" transform="rotate(90 291.40 195.80)" textLength="14.5" lengthAdjust="spacingAndGlyphs" stroke="#66686f" stroke-width="0.25">Melanoma</text>
<rect x="293.87" y="190.52" width="5.50" height="2.28" fill="#8a1717" stroke="none" stroke-width="1"/>
<text x="296.62" y="189.52" font-size="3.8" font-weight="normal" text-anchor="middle" fill="#5f6b78" stroke="#5f6b78" stroke-width="0.12">PD</text>
<path d="M296.62,183.07 L297.49,184.22 L296.62,185.37 L295.75,184.22 Z" fill="#111" stroke="none" stroke-width="1"/>
<text x="297.82" y="195.80" font-size="3.4" font-weight="bold" text-anchor="start" fill="#66686f" transform="rotate(90 297.82 195.80)" textLength="14.5" lengthAdjust="spacingAndGlyphs" stroke="#66686f" stroke-width="0.25">Melanoma</text>
<rect x="300.29" y="190.90" width="5.50" height="1.90" fill="#ec6426" stroke="none" stroke-width="1"/>
<text x="303.04" y="189.90" font-size="3.8" font-weight="normal" text-anchor="middle" fill="#5f6b78" stroke="#5f6b78" stroke-width="0.12">PD</text>
<path d="M303.04,183.45 L303.91,184.60 L303.04,185.75 L302.17,184.60 Z" fill="#111" stroke="none" stroke-width="1"/>
<text x="302.89" y="195.80" font-size="3.4" font-weight="bold" text-anchor="start" fill="#66686f" transform="rotate(90 302.89 195.80)" textLength="14.5" lengthAdjust="spacingAndGlyphs" stroke="#66686f" stroke-width="0.25">Melanoma</text>
<text x="305.59" y="195.80" font-size="3.4" font-weight="bold" text-anchor="start" fill="#66686f" transform="rotate(90 305.59 195.80)" textLength="14.5" lengthAdjust="spacingAndGlyphs" stroke="#66686f" stroke-width="0.25">Melanoma</text>
<text x="309.46" y="191.80" font-size="3.8" font-weight="normal" text-anchor="middle" fill="#5f6b78" stroke="#5f6b78" stroke-width="0.12">SD</text>
<path d="M309.46,185.35 L310.33,186.50 L309.46,187.65 L308.59,186.50 Z" fill="#111" stroke="none" stroke-width="1"/>
<text x="310.66" y="195.80" font-size="3.4" font-weight="bold" text-anchor="start" fill="#66686f" transform="rotate(90 310.66 195.80)" textLength="14.5" lengthAdjust="spacingAndGlyphs" stroke="#66686f" stroke-width="0.25">Melanoma</text>
<text x="315.88" y="191.80" font-size="3.8" font-weight="normal" text-anchor="middle" fill="#5f6b78" stroke="#5f6b78" stroke-width="0.12">PD</text>
<path d="M315.88,185.35 L316.75,186.50 L315.88,187.65 L315.01,186.50 Z" fill="#111" stroke="none" stroke-width="1"/>
<text x="317.08" y="195.80" font-size="3.4" font-weight="bold" text-anchor="start" fill="#66686f" transform="rotate(90 317.08 195.80)" textLength="14.5" lengthAdjust="spacingAndGlyphs" stroke="#66686f" stroke-width="0.25">Melanoma</text>
<text x="322.30" y="191.80" font-size="3.8" font-weight="normal" text-anchor="middle" fill="#5f6b78" stroke="#5f6b78" stroke-width="0.12">SD</text>
<path d="M322.30,185.35 L323.17,186.50 L322.30,187.65 L321.43,186.50 Z" fill="#111" stroke="none" stroke-width="1"/>
<text x="323.50" y="195.80" font-size="3.4" font-weight="bold" text-anchor="start" fill="#66686f" transform="rotate(90 323.50 195.80)" textLength="14.5" lengthAdjust="spacingAndGlyphs" stroke="#66686f" stroke-width="0.25">Melanoma</text>
<text x="328.72" y="191.80" font-size="3.8" font-weight="normal" text-anchor="middle" fill="#5f6b78" stroke="#5f6b78" stroke-width="0.12">PD</text>
<path d="M328.72,185.35 L329.59,186.50 L328.72,187.65 L327.85,186.50 Z" fill="#111" stroke="none" stroke-width="1"/>
<text x="329.92" y="195.80" font-size="3.4" font-weight="bold" text-anchor="start" fill="#66686f" transform="rotate(90 329.92 195.80)" textLength="14.5" lengthAdjust="spacingAndGlyphs" stroke="#66686f" stroke-width="0.25">Melanoma</text>
<text x="335.14" y="191.80" font-size="3.8" font-weight="normal" text-anchor="middle" fill="#5f6b78" stroke="#5f6b78" stroke-width="0.12">SD</text>
<path d="M335.14,185.35 L336.01,186.50 L335.14,187.65 L334.27,186.50 Z" fill="#111" stroke="none" stroke-width="1"/>
<text x="336.34" y="195.80" font-size="3.4" font-weight="bold" text-anchor="start" fill="#66686f" transform="rotate(90 336.34 195.80)" textLength="14.5" lengthAdjust="spacingAndGlyphs" stroke="#66686f" stroke-width="0.25">Melanoma</text>
<rect x="338.81" y="192.80" width="5.50" height="0.80" fill="#f5a024" stroke="none" stroke-width="1"/>
<text x="341.56" y="197.16" font-size="3.8" font-weight="normal" text-anchor="middle" fill="#444">PD</text>
<path d="M341.56,198.81 L342.43,199.96 L341.56,201.11 L340.69,199.96 Z" fill="#111" stroke="none" stroke-width="1"/>
<text x="342.76" y="176.00" font-size="3.4" font-weight="bold" text-anchor="start" fill="#66686f" transform="rotate(90 342.76 176.00)" textLength="14.8" lengthAdjust="spacingAndGlyphs" stroke="#66686f" stroke-width="0.25">Melanoma</text>
<rect x="345.23" y="192.80" width="5.50" height="0.95" fill="#9b7b7d" stroke="none" stroke-width="1"/>
<text x="347.98" y="197.35" font-size="3.8" font-weight="normal" text-anchor="middle" fill="#444">SD</text>
<path d="M347.98,199.00 L348.85,200.15 L347.98,201.30 L347.11,200.15 Z" fill="#111" stroke="none" stroke-width="1"/>
<text x="349.18" y="176.00" font-size="3.4" font-weight="bold" text-anchor="start" fill="#66686f" transform="rotate(90 349.18 176.00)" textLength="14.8" lengthAdjust="spacingAndGlyphs" stroke="#66686f" stroke-width="0.25">Melanoma</text>
<rect x="351.65" y="192.80" width="5.50" height="1.90" fill="#c63a2c" stroke="none" stroke-width="1"/>
<text x="354.40" y="198.30" font-size="3.8" font-weight="normal" text-anchor="middle" fill="#444">PR</text>
<path d="M354.40,199.95 L355.27,201.10 L354.40,202.25 L353.53,201.10 Z" fill="#111" stroke="none" stroke-width="1"/>
<text x="354.25" y="176.00" font-size="3.4" font-weight="bold" text-anchor="start" fill="#66686f" transform="rotate(90 354.25 176.00)" textLength="14.8" lengthAdjust="spacingAndGlyphs" stroke="#66686f" stroke-width="0.25">Melanoma</text>
<text x="356.95" y="176.00" font-size="3.4" font-weight="bold" text-anchor="start" fill="#66686f" transform="rotate(90 356.95 176.00)" textLength="14.8" lengthAdjust="spacingAndGlyphs" stroke="#66686f" stroke-width="0.25">Melanoma</text>
<rect x="358.07" y="192.80" width="5.50" height="6.27" fill="#9b7b7d" stroke="none" stroke-width="1"/>
<text x="360.82" y="202.67" font-size="3.8" font-weight="normal" text-anchor="middle" fill="#444">PR</text>
<path d="M360.82,204.32 L361.69,205.47 L360.82,206.62 L359.95,205.47 Z" fill="#111" stroke="none" stroke-width="1"/>
<text x="360.67" y="176.00" font-size="3.4" font-weight="bold" text-anchor="start" fill="#66686f" transform="rotate(90 360.67 176.00)" textLength="14.8" lengthAdjust="spacingAndGlyphs" stroke="#66686f" stroke-width="0.25">Melanoma</text>
<text x="363.37" y="176.00" font-size="3.4" font-weight="bold" text-anchor="start" fill="#66686f" transform="rotate(90 363.37 176.00)" textLength="14.8" lengthAdjust="spacingAndGlyphs" stroke="#66686f" stroke-width="0.25">Melanoma</text>
<rect x="364.49" y="192.80" width="5.50" height="11.40" fill="#8a1717" stroke="none" stroke-width="1"/>
<text x="367.24" y="207.80" font-size="3.8" font-weight="normal" text-anchor="middle" fill="#444">PR</text>
<path d="M367.24,209.45 L368.11,210.60 L367.24,211.75 L366.37,210.60 Z" fill="#111" stroke="none" stroke-width="1"/>
<text x="367.09" y="176.00" font-size="3.4" font-weight="bold" text-anchor="start" fill="#66686f" transform="rotate(90 367.09 176.00)" textLength="14.8" lengthAdjust="spacingAndGlyphs" stroke="#66686f" stroke-width="0.25">Melanoma</text>
<text x="369.79" y="176.00" font-size="3.4" font-weight="bold" text-anchor="start" fill="#66686f" transform="rotate(90 369.79 176.00)" textLength="14.8" lengthAdjust="spacingAndGlyphs" stroke="#66686f" stroke-width="0.25">Melanoma</text>
<rect x="370.91" y="192.80" width="5.50" height="12.92" fill="#1f5fa8" stroke="none" stroke-width="1"/>
<text x="373.66" y="209.32" font-size="3.8" font-weight="normal" text-anchor="middle" fill="#444">PR</text>
<path d="M373.66,210.97 L374.53,212.12 L373.66,213.27 L372.79,212.12 Z" fill="#111" stroke="none" stroke-width="1"/>
<text x="374.86" y="176.00" font-size="3.4" font-weight="bold" text-anchor="start" fill="#66686f" transform="rotate(90 374.86 176.00)" textLength="14.8" lengthAdjust="spacingAndGlyphs" stroke="#66686f" stroke-width="0.25">Melanoma</text>
<rect x="377.33" y="192.80" width="5.50" height="15.01" fill="#ec6426" stroke="none" stroke-width="1"/>
<text x="380.08" y="211.41" font-size="3.8" font-weight="normal" text-anchor="middle" fill="#444">PR</text>
<path d="M380.08,213.06 L380.95,214.21 L380.08,215.36 L379.21,214.21 Z" fill="#111" stroke="none" stroke-width="1"/>
<text x="381.28" y="176.00" font-size="3.4" font-weight="bold" text-anchor="start" fill="#66686f" transform="rotate(90 381.28 176.00)" textLength="14.8" lengthAdjust="spacingAndGlyphs" stroke="#66686f" stroke-width="0.25">Melanoma</text>
<circle cx="386.50" cy="192.80" r="0.70" fill="none" stroke="#222" stroke-width="0.7"/>
<text x="387.70" y="195.80" font-size="3.4" font-weight="bold" text-anchor="start" fill="#66686f" transform="rotate(90 387.70 195.80)" textLength="14.5" lengthAdjust="spacingAndGlyphs" stroke="#66686f" stroke-width="0.25">Melanoma</text>
<circle cx="392.92" cy="192.80" r="0.70" fill="#222"/>
<text x="394.12" y="195.80" font-size="3.4" font-weight="bold" text-anchor="start" fill="#66686f" transform="rotate(90 394.12 195.80)" textLength="14.5" lengthAdjust="spacingAndGlyphs" stroke="#66686f" stroke-width="0.25">Melanoma</text>
<circle cx="399.34" cy="192.80" r="0.70" fill="#222"/>
<text x="400.54" y="195.80" font-size="3.4" font-weight="bold" text-anchor="start" fill="#66686f" transform="rotate(90 400.54 195.80)" textLength="14.5" lengthAdjust="spacingAndGlyphs" stroke="#66686f" stroke-width="0.25">Melanoma</text>
<circle cx="405.76" cy="192.80" r="0.70" fill="#222"/>
<text x="406.96" y="195.80" font-size="3.4" font-weight="bold" text-anchor="start" fill="#66686f" transform="rotate(90 406.96 195.80)" textLength="14.5" lengthAdjust="spacingAndGlyphs" stroke="#66686f" stroke-width="0.25">Melanoma</text>
<rect x="414.05" y="184.82" width="5.50" height="7.98" fill="#8a1717" stroke="none" stroke-width="1"/>
<text x="416.80" y="183.82" font-size="3.8" font-weight="normal" text-anchor="middle" fill="#444">PD</text>
<path d="M416.80,177.37 L417.67,178.52 L416.80,179.67 L415.93,178.52 Z" fill="#111" stroke="none" stroke-width="1"/>
<text x="416.65" y="195.80" font-size="3.4" font-weight="bold" text-anchor="start" fill="#66686f" transform="rotate(90 416.65 195.80)" textLength="14.5" lengthAdjust="spacingAndGlyphs" stroke="#66686f" stroke-width="0.25">Melanoma</text>
<text x="419.35" y="195.80" font-size="3.4" font-weight="bold" text-anchor="start" fill="#66686f" transform="rotate(90 419.35 195.80)" textLength="14.5" lengthAdjust="spacingAndGlyphs" stroke="#66686f" stroke-width="0.25">Melanoma</text>
<rect x="420.43" y="187.10" width="5.50" height="5.70" fill="#1f5fa8" stroke="none" stroke-width="1"/>
<text x="423.18" y="186.10" font-size="3.8" font-weight="normal" text-anchor="middle" fill="#444">PD</text>
<path d="M423.18,179.65 L424.05,180.80 L423.18,181.95 L422.30,180.80 Z" fill="#111" stroke="none" stroke-width="1"/>
<text x="424.38" y="195.80" font-size="3.4" font-weight="bold" text-anchor="start" fill="#66686f" transform="rotate(90 424.38 195.80)" textLength="14.5" lengthAdjust="spacingAndGlyphs" stroke="#66686f" stroke-width="0.25">Melanoma</text>
<rect x="426.81" y="188.05" width="5.50" height="4.75" fill="#ec6426" stroke="none" stroke-width="1"/>
<text x="429.56" y="187.05" font-size="3.8" font-weight="normal" text-anchor="middle" fill="#444">PD</text>
<path d="M429.56,180.60 L430.43,181.75 L429.56,182.90 L428.68,181.75 Z" fill="#111" stroke="none" stroke-width="1"/>
<text x="429.41" y="195.80" font-size="3.4" font-weight="bold" text-anchor="start" fill="#66686f" transform="rotate(90 429.41 195.80)" textLength="14.5" lengthAdjust="spacingAndGlyphs" stroke="#66686f" stroke-width="0.25">Melanoma</text>
<text x="432.11" y="195.80" font-size="3.4" font-weight="bold" text-anchor="start" fill="#66686f" transform="rotate(90 432.11 195.80)" textLength="14.5" lengthAdjust="spacingAndGlyphs" stroke="#66686f" stroke-width="0.25">Melanoma</text>
<rect x="433.18" y="189.38" width="5.50" height="3.42" fill="#8a1717" stroke="none" stroke-width="1"/>
<text x="435.93" y="188.38" font-size="3.8" font-weight="normal" text-anchor="middle" fill="#444">SD</text>
<path d="M435.93,181.93 L436.81,183.08 L435.93,184.23 L435.06,183.08 Z" fill="#111" stroke="none" stroke-width="1"/>
<text x="437.13" y="195.80" font-size="3.4" font-weight="bold" text-anchor="start" fill="#66686f" transform="rotate(90 437.13 195.80)" textLength="14.5" lengthAdjust="spacingAndGlyphs" stroke="#66686f" stroke-width="0.25">Melanoma</text>
<rect x="439.56" y="189.38" width="5.50" height="3.42" fill="#8a1717" stroke="none" stroke-width="1"/>
<text x="442.31" y="188.38" font-size="3.8" font-weight="normal" text-anchor="middle" fill="#444">PD</text>
<path d="M442.31,181.93 L443.19,183.08 L442.31,184.23 L441.44,183.08 Z" fill="#111" stroke="none" stroke-width="1"/>
<text x="442.16" y="195.80" font-size="3.4" font-weight="bold" text-anchor="start" fill="#66686f" transform="rotate(90 442.16 195.80)" textLength="14.5" lengthAdjust="spacingAndGlyphs" stroke="#66686f" stroke-width="0.25">Melanoma</text>
<text x="444.86" y="195.80" font-size="3.4" font-weight="bold" text-anchor="start" fill="#66686f" transform="rotate(90 444.86 195.80)" textLength="14.5" lengthAdjust="spacingAndGlyphs" stroke="#66686f" stroke-width="0.25">Melanoma</text>
<rect x="445.94" y="190.52" width="5.50" height="2.28" fill="#ec6426" stroke="none" stroke-width="1"/>
<text x="448.69" y="189.52" font-size="3.8" font-weight="normal" text-anchor="middle" fill="#444">PD</text>
<path d="M448.69,183.07 L449.56,184.22 L448.69,185.37 L447.82,184.22 Z" fill="#111" stroke="none" stroke-width="1"/>
<text x="449.89" y="195.80" font-size="3.4" font-weight="bold" text-anchor="start" fill="#66686f" transform="rotate(90 449.89 195.80)" textLength="14.5" lengthAdjust="spacingAndGlyphs" stroke="#66686f" stroke-width="0.25">Melanoma</text>
<rect x="452.32" y="190.90" width="5.50" height="1.90" fill="#7c95b4" stroke="none" stroke-width="1"/>
<text x="455.07" y="189.90" font-size="3.8" font-weight="normal" text-anchor="middle" fill="#444">PD</text>
<path d="M455.07,183.45 L455.94,184.60 L455.07,185.75 L454.19,184.60 Z" fill="#111" stroke="none" stroke-width="1"/>
<text x="456.27" y="195.80" font-size="3.4" font-weight="bold" text-anchor="start" fill="#66686f" transform="rotate(90 456.27 195.80)" textLength="14.5" lengthAdjust="spacingAndGlyphs" stroke="#66686f" stroke-width="0.25">Melanoma</text>
<rect x="458.70" y="190.90" width="5.50" height="1.90" fill="#ec6426" stroke="none" stroke-width="1"/>
<text x="461.45" y="189.90" font-size="3.8" font-weight="normal" text-anchor="middle" fill="#444">PD</text>
<path d="M461.45,183.45 L462.32,184.60 L461.45,185.75 L460.57,184.60 Z" fill="#111" stroke="none" stroke-width="1"/>
<text x="461.30" y="195.80" font-size="3.4" font-weight="bold" text-anchor="start" fill="#66686f" transform="rotate(90 461.30 195.80)" textLength="14.5" lengthAdjust="spacingAndGlyphs" stroke="#66686f" stroke-width="0.25">Melanoma</text>
<text x="464.00" y="195.80" font-size="3.4" font-weight="bold" text-anchor="start" fill="#66686f" transform="rotate(90 464.00 195.80)" textLength="14.5" lengthAdjust="spacingAndGlyphs" stroke="#66686f" stroke-width="0.25">Melanoma</text>
<rect x="465.07" y="192.04" width="5.50" height="0.80" fill="#f5a024" stroke="none" stroke-width="1"/>
<text x="467.82" y="191.04" font-size="3.8" font-weight="normal" text-anchor="middle" fill="#444">PD</text>
<path d="M467.82,184.59 L468.70,185.74 L467.82,186.89 L466.95,185.74 Z" fill="#111" stroke="none" stroke-width="1"/>
<text x="469.02" y="195.80" font-size="3.4" font-weight="bold" text-anchor="start" fill="#66686f" transform="rotate(90 469.02 195.80)" textLength="14.5" lengthAdjust="spacingAndGlyphs" stroke="#66686f" stroke-width="0.25">Melanoma</text>
<rect x="471.45" y="192.80" width="5.50" height="2.85" fill="#9b7b7d" stroke="none" stroke-width="1"/>
<text x="474.20" y="199.25" font-size="3.8" font-weight="normal" text-anchor="middle" fill="#444">SD</text>
<path d="M474.20,200.90 L475.08,202.05 L474.20,203.20 L473.33,202.05 Z" fill="#111" stroke="none" stroke-width="1"/>
<text x="475.40" y="176.00" font-size="3.4" font-weight="bold" text-anchor="start" fill="#66686f" transform="rotate(90 475.40 176.00)" textLength="14.8" lengthAdjust="spacingAndGlyphs" stroke="#66686f" stroke-width="0.25">Melanoma</text>
<rect x="477.83" y="192.80" width="5.50" height="2.85" fill="#7c95b4" stroke="none" stroke-width="1"/>
<text x="480.58" y="199.25" font-size="3.8" font-weight="normal" text-anchor="middle" fill="#444">SD</text>
<path d="M480.58,200.90 L481.45,202.05 L480.58,203.20 L479.71,202.05 Z" fill="#111" stroke="none" stroke-width="1"/>
<text x="481.78" y="176.00" font-size="3.4" font-weight="bold" text-anchor="start" fill="#66686f" transform="rotate(90 481.78 176.00)" textLength="14.8" lengthAdjust="spacingAndGlyphs" stroke="#66686f" stroke-width="0.25">Melanoma</text>
<rect x="484.21" y="192.80" width="5.50" height="5.32" fill="#ec6426" stroke="none" stroke-width="1"/>
<text x="486.96" y="201.72" font-size="3.8" font-weight="normal" text-anchor="middle" fill="#444">PD</text>
<path d="M486.96,203.37 L487.83,204.52 L486.96,205.67 L486.08,204.52 Z" fill="#111" stroke="none" stroke-width="1"/>
<text x="488.16" y="176.00" font-size="3.4" font-weight="bold" text-anchor="start" fill="#66686f" transform="rotate(90 488.16 176.00)" textLength="14.8" lengthAdjust="spacingAndGlyphs" stroke="#66686f" stroke-width="0.25">Melanoma</text>
<path d="M493.34,190.42 L494.14,191.94 L492.54,191.94 Z" fill="#222" stroke="none" stroke-width="1"/>
<text x="493.19" y="193.80" font-size="3.4" font-weight="bold" text-anchor="start" fill="#66686f" transform="rotate(90 493.19 193.80)" textLength="16.5" lengthAdjust="spacingAndGlyphs" stroke="#66686f" stroke-width="0.25">Melanoma</text>
<text x="495.89" y="193.80" font-size="3.4" font-weight="bold" text-anchor="start" fill="#66686f" transform="rotate(90 495.89 193.80)" textLength="16.5" lengthAdjust="spacingAndGlyphs" stroke="#66686f" stroke-width="0.25">Melanoma</text>
<path d="M499.71,190.42 L500.51,191.94 L498.91,191.94 Z" fill="#222" stroke="none" stroke-width="1"/>
<text x="500.91" y="193.80" font-size="3.4" font-weight="bold" text-anchor="start" fill="#66686f" transform="rotate(90 500.91 193.80)" textLength="16.5" lengthAdjust="spacingAndGlyphs" stroke="#66686f" stroke-width="0.25">Melanoma</text>
<rect x="14.40" y="249.90" width="8.50" height="1.00" fill="#333" stroke="none" stroke-width="1"/>
<rect x="49.64" y="249.90" width="8.50" height="1.00" fill="#bbb" stroke="none" stroke-width="1"/>
<rect x="58.45" y="249.90" width="8.50" height="1.00" fill="#bbb" stroke="none" stroke-width="1"/>
<rect x="111.31" y="249.90" width="8.50" height="1.00" fill="#bbb" stroke="none" stroke-width="1"/>
<rect x="128.93" y="249.90" width="8.50" height="1.00" fill="#aaa" stroke="none" stroke-width="1"/>
<rect x="137.74" y="249.90" width="8.50" height="1.00" fill="#999" stroke="none" stroke-width="1"/>
<rect x="146.55" y="249.90" width="8.50" height="1.00" fill="#aaa" stroke="none" stroke-width="1"/>
<rect x="155.36" y="249.90" width="8.50" height="1.00" fill="#aaa" stroke="none" stroke-width="1"/>
<rect x="164.17" y="249.90" width="8.50" height="1.00" fill="#999" stroke="none" stroke-width="1"/>
<rect x="172.98" y="249.90" width="8.50" height="1.00" fill="#aaa" stroke="none" stroke-width="1"/>
<rect x="67.26" y="233.62" width="8.50" height="17.28" fill="#f5a021" stroke="#e08a10" stroke-width="0.3"/>
<rect x="84.88" y="242.53" width="8.50" height="8.37" fill="#f5a021" stroke="#e08a10" stroke-width="0.3"/>
<rect x="93.69" y="219.04" width="8.50" height="31.86" fill="#f5a021" stroke="#e08a10" stroke-width="0.3"/>
<rect x="120.12" y="249.55" width="8.50" height="1.35" fill="#f5a021" stroke="#e08a10" stroke-width="0.3"/>
<rect x="67.66" y="228.49" width="7.70" height="22.41" fill="none" stroke="#474747" stroke-width="0.8"/>
<rect x="76.47" y="239.83" width="7.70" height="11.07" fill="none" stroke="#474747" stroke-width="0.8"/>
<rect x="85.28" y="244.42" width="7.70" height="6.48" fill="none" stroke="#474747" stroke-width="0.8"/>
<rect x="102.90" y="230.11" width="7.70" height="20.79" fill="none" stroke="#474747" stroke-width="0.8"/>
<rect x="120.52" y="232.81" width="7.70" height="18.09" fill="none" stroke="#474747" stroke-width="0.8"/>
<line x1="14.80" y1="248.34" x2="181.90" y2="248.34" stroke="#222" stroke-width="0.6" stroke-dasharray="1.6,1.6"/>
<rect x="194.22" y="249.90" width="8.50" height="1.00" fill="#8a6a30" stroke="none" stroke-width="1"/>
<rect x="203.09" y="249.90" width="8.50" height="1.00" fill="#8a6a30" stroke="none" stroke-width="1"/>
<rect x="211.96" y="247.39" width="8.50" height="3.51" fill="#f5a021" stroke="#e08a10" stroke-width="0.3"/>
<rect x="185.75" y="248.20" width="7.70" height="2.70" fill="none" stroke="#9a9a9a" stroke-width="0.8"/>
<line x1="187.10" y1="248.34" x2="219.30" y2="248.34" stroke="#222" stroke-width="0.6" stroke-dasharray="1.6,1.6"/>
<rect x="14.40" y="286.70" width="8.50" height="1.00" fill="#6a5020" stroke="none" stroke-width="1"/>
<rect x="49.64" y="286.70" width="8.50" height="1.00" fill="#bbb" stroke="none" stroke-width="1"/>
<rect x="58.45" y="286.70" width="8.50" height="1.00" fill="#bbb" stroke="none" stroke-width="1"/>
<rect x="84.88" y="286.70" width="8.50" height="1.00" fill="#555" stroke="none" stroke-width="1"/>
<rect x="120.12" y="286.70" width="8.50" height="1.00" fill="#555" stroke="none" stroke-width="1"/>
<rect x="128.93" y="286.70" width="8.50" height="1.00" fill="#aaa" stroke="none" stroke-width="1"/>
<rect x="137.74" y="286.70" width="8.50" height="1.00" fill="#999" stroke="none" stroke-width="1"/>
<rect x="146.55" y="286.70" width="8.50" height="1.00" fill="#aaa" stroke="none" stroke-width="1"/>
<rect x="155.36" y="286.70" width="8.50" height="1.00" fill="#999" stroke="none" stroke-width="1"/>
<rect x="164.17" y="286.70" width="8.50" height="1.00" fill="#aaa" stroke="none" stroke-width="1"/>
<rect x="14.40" y="285.78" width="8.50" height="1.92" fill="#f5a021" stroke="#e08a10" stroke-width="0.3"/>
<rect x="67.26" y="283.48" width="8.50" height="4.22" fill="#f5a021" stroke="#e08a10" stroke-width="0.3"/>
<rect x="93.69" y="270.42" width="8.50" height="17.28" fill="#f5a021" stroke="#e08a10" stroke-width="0.3"/>
<rect x="102.90" y="281.30" width="7.70" height="6.40" fill="none" stroke="#474747" stroke-width="0.8"/>
<rect x="111.71" y="282.07" width="7.70" height="5.63" fill="none" stroke="#474747" stroke-width="0.8"/>
<rect x="173.38" y="284.63" width="7.70" height="3.07" fill="none" stroke="#474747" stroke-width="0.8"/>
<line x1="14.80" y1="286.93" x2="181.90" y2="286.93" stroke="#222" stroke-width="0.6" stroke-dasharray="1.6,1.6"/>
<rect x="194.22" y="286.70" width="8.50" height="1.00" fill="#555" stroke="none" stroke-width="1"/>
<rect x="211.96" y="286.70" width="8.50" height="1.00" fill="#555" stroke="none" stroke-width="1"/>
<rect x="185.75" y="285.14" width="7.70" height="2.56" fill="none" stroke="#474747" stroke-width="0.8"/>
<rect x="203.49" y="285.40" width="7.70" height="2.30" fill="none" stroke="#9a9a9a" stroke-width="0.8"/>
<line x1="187.10" y1="286.93" x2="219.30" y2="286.93" stroke="#222" stroke-width="0.6" stroke-dasharray="1.6,1.6"/>
<rect x="14.40" y="323.50" width="8.50" height="1.00" fill="#555" stroke="none" stroke-width="1"/>
<rect x="40.83" y="323.50" width="8.50" height="1.00" fill="#777" stroke="none" stroke-width="1"/>
<rect x="49.64" y="323.50" width="8.50" height="1.00" fill="#777" stroke="none" stroke-width="1"/>
<rect x="58.45" y="323.50" width="8.50" height="1.00" fill="#777" stroke="none" stroke-width="1"/>
<rect x="128.93" y="323.50" width="8.50" height="1.00" fill="#555" stroke="none" stroke-width="1"/>
<rect x="137.74" y="323.50" width="8.50" height="1.00" fill="#555" stroke="none" stroke-width="1"/>
<rect x="155.36" y="323.50" width="8.50" height="1.00" fill="#555" stroke="none" stroke-width="1"/>
<rect x="172.98" y="323.50" width="8.50" height="1.00" fill="#555" stroke="none" stroke-width="1"/>
<rect x="67.66" y="318.15" width="7.70" height="6.35" fill="none" stroke="#d8536e" stroke-width="0.8"/>
<rect x="76.47" y="299.10" width="7.70" height="25.40" fill="none" stroke="#d8536e" stroke-width="0.8"/>
<rect x="85.28" y="322.60" width="7.70" height="1.90" fill="none" stroke="#e9a0b0" stroke-width="0.8"/>
<rect x="94.09" y="318.15" width="7.70" height="6.35" fill="none" stroke="#d8536e" stroke-width="0.8"/>
<rect x="102.90" y="318.15" width="7.70" height="6.35" fill="none" stroke="#d8536e" stroke-width="0.8"/>
<rect x="111.71" y="320.69" width="7.70" height="3.81" fill="none" stroke="#d8536e" stroke-width="0.8"/>
<rect x="120.52" y="318.15" width="7.70" height="6.35" fill="none" stroke="#d8536e" stroke-width="0.8"/>
<rect x="146.95" y="304.94" width="7.70" height="19.56" fill="none" stroke="#d8536e" stroke-width="0.8"/>
<rect x="164.57" y="311.80" width="7.70" height="12.70" fill="none" stroke="#d8536e" stroke-width="0.8"/>
<line x1="14.80" y1="323.29" x2="181.90" y2="323.29" stroke="#222" stroke-width="0.6" stroke-dasharray="1.6,1.6"/>
<rect x="185.35" y="323.50" width="8.50" height="1.00" fill="#555" stroke="none" stroke-width="1"/>
<rect x="194.22" y="323.50" width="8.50" height="1.00" fill="#555" stroke="none" stroke-width="1"/>
<rect x="211.96" y="323.50" width="8.50" height="1.00" fill="#555" stroke="none" stroke-width="1"/>
<rect x="203.49" y="321.71" width="7.70" height="2.79" fill="none" stroke="#d8536e" stroke-width="0.8"/>
<rect x="14.40" y="360.30" width="8.50" height="1.00" fill="#444" stroke="none" stroke-width="1"/>
<rect x="49.64" y="360.30" width="8.50" height="1.00" fill="#999" stroke="none" stroke-width="1"/>
<rect x="58.45" y="360.30" width="8.50" height="1.00" fill="#999" stroke="none" stroke-width="1"/>
<rect x="67.26" y="360.30" width="8.50" height="1.00" fill="#aaa" stroke="none" stroke-width="1"/>
<rect x="76.07" y="360.30" width="8.50" height="1.00" fill="#555" stroke="none" stroke-width="1"/>
<rect x="120.12" y="360.30" width="8.50" height="1.00" fill="#555" stroke="none" stroke-width="1"/>
<rect x="128.93" y="360.30" width="8.50" height="1.00" fill="#555" stroke="none" stroke-width="1"/>
<rect x="137.74" y="360.30" width="8.50" height="1.00" fill="#777" stroke="none" stroke-width="1"/>
<rect x="155.36" y="360.30" width="8.50" height="1.00" fill="#777" stroke="none" stroke-width="1"/>
<rect x="172.98" y="360.30" width="8.50" height="1.00" fill="#999" stroke="none" stroke-width="1"/>
<rect x="85.28" y="360.34" width="7.70" height="0.96" fill="none" stroke="#e9a0b0" stroke-width="0.8"/>
<rect x="94.09" y="360.34" width="7.70" height="0.96" fill="none" stroke="#e9a0b0" stroke-width="0.8"/>
<rect x="102.90" y="353.32" width="7.70" height="7.98" fill="none" stroke="#d8536e" stroke-width="0.8"/>
<rect x="111.71" y="329.40" width="7.70" height="31.90" fill="none" stroke="#d8536e" stroke-width="0.8"/>
<rect x="146.95" y="345.35" width="7.70" height="15.95" fill="none" stroke="#d8536e" stroke-width="0.8"/>
<rect x="164.57" y="329.40" width="7.70" height="31.90" fill="none" stroke="#d8536e" stroke-width="0.8"/>
<line x1="14.80" y1="360.34" x2="181.90" y2="360.34" stroke="#222" stroke-width="0.6" stroke-dasharray="1.6,1.6"/>
<rect x="185.35" y="360.30" width="8.50" height="1.00" fill="#444" stroke="none" stroke-width="1"/>
<rect x="194.22" y="360.30" width="8.50" height="1.00" fill="#444" stroke="none" stroke-width="1"/>
<rect x="203.49" y="356.20" width="7.70" height="5.10" fill="none" stroke="#d8536e" stroke-width="0.8"/>
<rect x="212.36" y="358.11" width="7.70" height="3.19" fill="none" stroke="#d8536e" stroke-width="0.8"/>
<rect x="255.10" y="249.70" width="6.00" height="1.00" fill="#999" stroke="none" stroke-width="1"/>
<rect x="261.52" y="249.70" width="6.00" height="1.00" fill="#999" stroke="none" stroke-width="1"/>
<rect x="267.94" y="249.70" width="6.00" height="1.00" fill="#444" stroke="none" stroke-width="1"/>
<rect x="274.36" y="249.70" width="6.00" height="1.00" fill="#444" stroke="none" stroke-width="1"/>
<rect x="293.62" y="249.70" width="6.00" height="1.00" fill="#444" stroke="none" stroke-width="1"/>
<rect x="325.72" y="249.70" width="6.00" height="1.00" fill="#555" stroke="none" stroke-width="1"/>
<rect x="338.56" y="249.70" width="6.00" height="1.00" fill="#777" stroke="none" stroke-width="1"/>
<rect x="344.98" y="249.70" width="6.00" height="1.00" fill="#777" stroke="none" stroke-width="1"/>
<rect x="351.40" y="249.70" width="6.00" height="1.00" fill="#555" stroke="none" stroke-width="1"/>
<rect x="357.82" y="249.70" width="6.00" height="1.00" fill="#999" stroke="none" stroke-width="1"/>
<rect x="383.50" y="249.70" width="6.00" height="1.00" fill="#444" stroke="none" stroke-width="1"/>
<rect x="389.92" y="249.70" width="6.00" height="1.00" fill="#444" stroke="none" stroke-width="1"/>
<rect x="280.78" y="237.07" width="6.00" height="13.63" fill="#f5a021" stroke="#e08a10" stroke-width="0.3"/>
<rect x="287.20" y="246.58" width="6.00" height="4.12" fill="#f5a021" stroke="#e08a10" stroke-width="0.3"/>
<rect x="293.62" y="245.50" width="6.00" height="5.20" fill="#f5a021" stroke="#e08a10" stroke-width="0.3"/>
<rect x="370.66" y="233.07" width="6.00" height="17.63" fill="#f5a021" stroke="#e08a10" stroke-width="0.3"/>
<rect x="377.08" y="246.14" width="6.00" height="4.56" fill="#f5a021" stroke="#e08a10" stroke-width="0.3"/>
<rect x="281.18" y="241.89" width="5.20" height="8.81" fill="none" stroke="#474747" stroke-width="0.8"/>
<rect x="287.60" y="238.97" width="5.20" height="11.73" fill="none" stroke="#474747" stroke-width="0.8"/>
<rect x="300.44" y="244.17" width="5.20" height="6.53" fill="none" stroke="#474747" stroke-width="0.8"/>
<rect x="306.86" y="238.97" width="5.20" height="11.73" fill="none" stroke="#474747" stroke-width="0.8"/>
<rect x="364.64" y="247.21" width="5.20" height="3.49" fill="none" stroke="#9a9a9a" stroke-width="0.8"/>
<rect x="371.06" y="240.18" width="5.20" height="10.52" fill="none" stroke="#474747" stroke-width="0.8"/>
<rect x="403.16" y="248.04" width="5.20" height="2.66" fill="none" stroke="#9a9a9a" stroke-width="0.8"/>
<rect x="420.18" y="249.70" width="6.00" height="1.00" fill="#444" stroke="none" stroke-width="1"/>
<rect x="426.56" y="249.70" width="6.00" height="1.00" fill="#444" stroke="none" stroke-width="1"/>
<rect x="439.31" y="249.70" width="6.00" height="1.00" fill="#444" stroke="none" stroke-width="1"/>
<rect x="445.69" y="249.70" width="6.00" height="1.00" fill="#444" stroke="none" stroke-width="1"/>
<rect x="452.07" y="249.70" width="6.00" height="1.00" fill="#444" stroke="none" stroke-width="1"/>
<rect x="464.82" y="249.70" width="6.00" height="1.00" fill="#999" stroke="none" stroke-width="1"/>
<rect x="483.96" y="249.70" width="6.00" height="1.00" fill="#444" stroke="none" stroke-width="1"/>
<rect x="490.34" y="249.70" width="6.00" height="1.00" fill="#444" stroke="none" stroke-width="1"/>
<rect x="432.93" y="245.82" width="6.00" height="4.88" fill="#f5a021" stroke="#e08a10" stroke-width="0.3"/>
<rect x="477.58" y="239.92" width="6.00" height="10.78" fill="#f5a021" stroke="#e08a10" stroke-width="0.3"/>
<rect x="483.96" y="247.53" width="6.00" height="3.17" fill="#f5a021" stroke="#e08a10" stroke-width="0.3"/>
<rect x="458.85" y="248.29" width="5.20" height="2.41" fill="none" stroke="#9a9a9a" stroke-width="0.8"/>
<rect x="255.10" y="286.60" width="6.00" height="1.00" fill="#999" stroke="none" stroke-width="1"/>
<rect x="261.52" y="286.60" width="6.00" height="1.00" fill="#999" stroke="none" stroke-width="1"/>
<rect x="267.94" y="286.60" width="6.00" height="1.00" fill="#999" stroke="none" stroke-width="1"/>
<rect x="306.46" y="286.60" width="6.00" height="1.00" fill="#444" stroke="none" stroke-width="1"/>
<rect x="312.88" y="286.60" width="6.00" height="1.00" fill="#444" stroke="none" stroke-width="1"/>
<rect x="319.30" y="286.60" width="6.00" height="1.00" fill="#444" stroke="none" stroke-width="1"/>
<rect x="325.72" y="286.60" width="6.00" height="1.00" fill="#444" stroke="none" stroke-width="1"/>
<rect x="332.14" y="286.60" width="6.00" height="1.00" fill="#444" stroke="none" stroke-width="1"/>
<rect x="338.56" y="286.60" width="6.00" height="1.00" fill="#555" stroke="none" stroke-width="1"/>
<rect x="351.40" y="286.60" width="6.00" height="1.00" fill="#444" stroke="none" stroke-width="1"/>
<rect x="357.82" y="286.60" width="6.00" height="1.00" fill="#444" stroke="none" stroke-width="1"/>
<rect x="377.08" y="286.60" width="6.00" height="1.00" fill="#444" stroke="none" stroke-width="1"/>
<rect x="383.50" y="286.60" width="6.00" height="1.00" fill="#444" stroke="none" stroke-width="1"/>
<rect x="389.92" y="286.60" width="6.00" height="1.00" fill="#444" stroke="none" stroke-width="1"/>
<rect x="396.34" y="286.60" width="6.00" height="1.00" fill="#444" stroke="none" stroke-width="1"/>
<rect x="402.76" y="286.60" width="6.00" height="1.00" fill="#444" stroke="none" stroke-width="1"/>
<rect x="287.20" y="286.01" width="6.00" height="1.59" fill="#f5a021" stroke="#e08a10" stroke-width="0.3"/>
<rect x="293.62" y="282.51" width="6.00" height="5.09" fill="#f5a021" stroke="#e08a10" stroke-width="0.3"/>
<rect x="344.98" y="285.69" width="6.00" height="1.91" fill="#f5a021" stroke="#e08a10" stroke-width="0.3"/>
<rect x="370.66" y="276.79" width="6.00" height="10.81" fill="#f5a021" stroke="#e08a10" stroke-width="0.3"/>
<rect x="281.18" y="283.47" width="5.20" height="4.13" fill="none" stroke="#474747" stroke-width="0.8"/>
<rect x="294.02" y="282.51" width="5.20" height="5.09" fill="none" stroke="#474747" stroke-width="0.8"/>
<rect x="364.64" y="283.47" width="5.20" height="4.13" fill="none" stroke="#474747" stroke-width="0.8"/>
<rect x="371.06" y="285.06" width="5.20" height="2.54" fill="none" stroke="#474747" stroke-width="0.8"/>
<rect x="420.18" y="286.60" width="6.00" height="1.00" fill="#444" stroke="none" stroke-width="1"/>
<rect x="426.56" y="286.60" width="6.00" height="1.00" fill="#444" stroke="none" stroke-width="1"/>
<rect x="439.31" y="286.60" width="6.00" height="1.00" fill="#444" stroke="none" stroke-width="1"/>
<rect x="445.69" y="286.60" width="6.00" height="1.00" fill="#444" stroke="none" stroke-width="1"/>
<rect x="452.07" y="286.60" width="6.00" height="1.00" fill="#444" stroke="none" stroke-width="1"/>
<rect x="464.82" y="286.60" width="6.00" height="1.00" fill="#444" stroke="none" stroke-width="1"/>
<rect x="490.34" y="286.60" width="6.00" height="1.00" fill="#777" stroke="none" stroke-width="1"/>
<rect x="432.93" y="286.84" width="6.00" height="0.76" fill="#f5a021" stroke="#e08a10" stroke-width="0.3"/>
<rect x="458.45" y="270.43" width="6.00" height="17.17" fill="#f5a021" stroke="#e08a10" stroke-width="0.3"/>
<rect x="477.58" y="286.33" width="6.00" height="1.27" fill="#f5a021" stroke="#e08a10" stroke-width="0.3"/>
<rect x="483.96" y="286.33" width="6.00" height="1.27" fill="#f5a021" stroke="#e08a10" stroke-width="0.3"/>
<rect x="458.85" y="285.69" width="5.20" height="1.91" fill="none" stroke="#474747" stroke-width="0.8"/>
<rect x="255.10" y="323.30" width="6.00" height="1.00" fill="#999" stroke="none" stroke-width="1"/>
<rect x="261.52" y="323.30" width="6.00" height="1.00" fill="#999" stroke="none" stroke-width="1"/>
<rect x="312.88" y="323.30" width="6.00" height="1.00" fill="#999" stroke="none" stroke-width="1"/>
<rect x="319.30" y="323.30" width="6.00" height="1.00" fill="#999" stroke="none" stroke-width="1"/>
<rect x="332.14" y="323.30" width="6.00" height="1.00" fill="#555" stroke="none" stroke-width="1"/>
<rect x="338.56" y="323.30" width="6.00" height="1.00" fill="#999" stroke="none" stroke-width="1"/>
<rect x="267.94" y="311.50" width="6.00" height="12.80" fill="#f5a021" stroke="#e08a10" stroke-width="0.3"/>
<rect x="280.78" y="292.30" width="6.00" height="32.00" fill="#f5a021" stroke="#e08a10" stroke-width="0.3"/>
<rect x="287.20" y="298.70" width="6.00" height="25.60" fill="#f5a021" stroke="#e08a10" stroke-width="0.3"/>
<rect x="293.62" y="292.30" width="6.00" height="32.00" fill="#f5a021" stroke="#e08a10" stroke-width="0.3"/>
<rect x="300.04" y="305.10" width="6.00" height="19.20" fill="#f5a021" stroke="#e08a10" stroke-width="0.3"/>
<rect x="306.46" y="305.10" width="6.00" height="19.20" fill="#f5a021" stroke="#e08a10" stroke-width="0.3"/>
<rect x="344.98" y="305.10" width="6.00" height="19.20" fill="#f5a021" stroke="#e08a10" stroke-width="0.3"/>
<rect x="370.66" y="292.30" width="6.00" height="32.00" fill="#f5a021" stroke="#e08a10" stroke-width="0.3"/>
<rect x="377.08" y="298.70" width="6.00" height="25.60" fill="#f5a021" stroke="#e08a10" stroke-width="0.3"/>
<rect x="383.50" y="292.30" width="6.00" height="32.00" fill="#f5a021" stroke="#e08a10" stroke-width="0.3"/>
<rect x="274.76" y="311.50" width="5.20" height="12.80" fill="none" stroke="#474747" stroke-width="0.8"/>
<rect x="281.18" y="292.30" width="5.20" height="32.00" fill="none" stroke="#474747" stroke-width="0.8"/>
<rect x="287.60" y="292.30" width="5.20" height="32.00" fill="none" stroke="#474747" stroke-width="0.8"/>
<rect x="294.02" y="292.30" width="5.20" height="32.00" fill="none" stroke="#474747" stroke-width="0.8"/>
<rect x="300.44" y="298.70" width="5.20" height="25.60" fill="none" stroke="#474747" stroke-width="0.8"/>
<rect x="306.86" y="298.70" width="5.20" height="25.60" fill="none" stroke="#474747" stroke-width="0.8"/>
<rect x="345.38" y="317.90" width="5.20" height="6.40" fill="none" stroke="#474747" stroke-width="0.8"/>
<rect x="351.80" y="298.70" width="5.20" height="25.60" fill="none" stroke="#474747" stroke-width="0.8"/>
<rect x="364.64" y="305.10" width="5.20" height="19.20" fill="none" stroke="#474747" stroke-width="0.8"/>
<rect x="371.06" y="292.30" width="5.20" height="32.00" fill="none" stroke="#474747" stroke-width="0.8"/>
<rect x="377.48" y="311.50" width="5.20" height="12.80" fill="none" stroke="#474747" stroke-width="0.8"/>
<rect x="383.90" y="305.10" width="5.20" height="19.20" fill="none" stroke="#474747" stroke-width="0.8"/>
<rect x="396.74" y="311.50" width="5.20" height="12.80" fill="none" stroke="#9a9a9a" stroke-width="0.8"/>
<rect x="403.16" y="292.30" width="5.20" height="32.00" fill="none" stroke="#9a9a9a" stroke-width="0.8"/>
<rect x="420.18" y="323.30" width="6.00" height="1.00" fill="#999" stroke="none" stroke-width="1"/>
<rect x="452.07" y="323.30" width="6.00" height="1.00" fill="#999" stroke="none" stroke-width="1"/>
<rect x="458.45" y="323.30" width="6.00" height="1.00" fill="#999" stroke="none" stroke-width="1"/>
<rect x="426.56" y="292.30" width="6.00" height="32.00" fill="#f5a021" stroke="#e08a10" stroke-width="0.3"/>
<rect x="445.69" y="311.50" width="6.00" height="12.80" fill="#f5a021" stroke="#e08a10" stroke-width="0.3"/>
<rect x="464.82" y="311.50" width="6.00" height="12.80" fill="#f5a021" stroke="#e08a10" stroke-width="0.3"/>
<rect x="477.58" y="292.30" width="6.00" height="32.00" fill="#f5a021" stroke="#e08a10" stroke-width="0.3"/>
<rect x="483.96" y="311.50" width="6.00" height="12.80" fill="#f5a021" stroke="#e08a10" stroke-width="0.3"/>
<rect x="426.96" y="292.30" width="5.20" height="32.00" fill="none" stroke="#474747" stroke-width="0.8"/>
<rect x="439.71" y="311.50" width="5.20" height="12.80" fill="none" stroke="#9a9a9a" stroke-width="0.8"/>
<rect x="446.09" y="317.90" width="5.20" height="6.40" fill="none" stroke="#474747" stroke-width="0.8"/>
<rect x="465.22" y="317.90" width="5.20" height="6.40" fill="none" stroke="#474747" stroke-width="0.8"/>
<rect x="477.98" y="305.10" width="5.20" height="19.20" fill="none" stroke="#474747" stroke-width="0.8"/>
<rect x="484.36" y="292.30" width="5.20" height="32.00" fill="none" stroke="#474747" stroke-width="0.8"/>
<rect x="490.74" y="311.50" width="5.20" height="12.80" fill="none" stroke="#9a9a9a" stroke-width="0.8"/>
<rect x="325.72" y="360.50" width="6.00" height="1.00" fill="#999" stroke="none" stroke-width="1"/>
<rect x="332.14" y="360.50" width="6.00" height="1.00" fill="#999" stroke="none" stroke-width="1"/>
<rect x="338.56" y="360.50" width="6.00" height="1.00" fill="#999" stroke="none" stroke-width="1"/>
<rect x="267.94" y="355.16" width="6.00" height="6.34" fill="#f5a021" stroke="#e08a10" stroke-width="0.3"/>
<rect x="287.20" y="348.82" width="6.00" height="12.68" fill="#f5a021" stroke="#e08a10" stroke-width="0.3"/>
<rect x="293.62" y="329.80" width="6.00" height="31.70" fill="#f5a021" stroke="#e08a10" stroke-width="0.3"/>
<rect x="300.04" y="342.48" width="6.00" height="19.02" fill="#f5a021" stroke="#e08a10" stroke-width="0.3"/>
<rect x="306.46" y="348.82" width="6.00" height="12.68" fill="#f5a021" stroke="#e08a10" stroke-width="0.3"/>
<rect x="344.98" y="355.16" width="6.00" height="6.34" fill="#f5a021" stroke="#e08a10" stroke-width="0.3"/>
<rect x="357.82" y="329.80" width="6.00" height="31.70" fill="#f5a021" stroke="#e08a10" stroke-width="0.3"/>
<rect x="383.50" y="329.80" width="6.00" height="31.70" fill="#f5a021" stroke="#e08a10" stroke-width="0.3"/>
<rect x="261.92" y="355.16" width="5.20" height="6.34" fill="none" stroke="#474747" stroke-width="0.8"/>
<rect x="268.34" y="355.16" width="5.20" height="6.34" fill="none" stroke="#474747" stroke-width="0.8"/>
<rect x="274.76" y="355.16" width="5.20" height="6.34" fill="none" stroke="#474747" stroke-width="0.8"/>
<rect x="281.18" y="336.14" width="5.20" height="25.36" fill="none" stroke="#474747" stroke-width="0.8"/>
<rect x="287.60" y="342.48" width="5.20" height="19.02" fill="none" stroke="#474747" stroke-width="0.8"/>
<rect x="300.44" y="355.16" width="5.20" height="6.34" fill="none" stroke="#474747" stroke-width="0.8"/>
<rect x="306.86" y="348.82" width="5.20" height="12.68" fill="none" stroke="#474747" stroke-width="0.8"/>
<rect x="319.70" y="355.16" width="5.20" height="6.34" fill="none" stroke="#9a9a9a" stroke-width="0.8"/>
<rect x="345.38" y="348.82" width="5.20" height="12.68" fill="none" stroke="#474747" stroke-width="0.8"/>
<rect x="364.64" y="348.82" width="5.20" height="12.68" fill="none" stroke="#474747" stroke-width="0.8"/>
<rect x="371.06" y="355.16" width="5.20" height="6.34" fill="none" stroke="#474747" stroke-width="0.8"/>
<rect x="383.90" y="329.80" width="5.20" height="31.70" fill="none" stroke="#474747" stroke-width="0.8"/>
<rect x="396.74" y="348.82" width="5.20" height="12.68" fill="none" stroke="#9a9a9a" stroke-width="0.8"/>
<rect x="420.18" y="360.50" width="6.00" height="1.00" fill="#999" stroke="none" stroke-width="1"/>
<rect x="432.93" y="360.50" width="6.00" height="1.00" fill="#999" stroke="none" stroke-width="1"/>
<rect x="445.69" y="360.50" width="6.00" height="1.00" fill="#999" stroke="none" stroke-width="1"/>
<rect x="452.07" y="360.50" width="6.00" height="1.00" fill="#999" stroke="none" stroke-width="1"/>
<rect x="426.56" y="329.80" width="6.00" height="31.70" fill="#f5a021" stroke="#e08a10" stroke-width="0.3"/>
<rect x="458.45" y="329.80" width="6.00" height="31.70" fill="#f5a021" stroke="#e08a10" stroke-width="0.3"/>
<rect x="464.82" y="348.82" width="6.00" height="12.68" fill="#f5a021" stroke="#e08a10" stroke-width="0.3"/>
<rect x="477.58" y="348.82" width="6.00" height="12.68" fill="#f5a021" stroke="#e08a10" stroke-width="0.3"/>
<rect x="483.96" y="342.48" width="6.00" height="19.02" fill="#f5a021" stroke="#e08a10" stroke-width="0.3"/>
<rect x="439.71" y="355.16" width="5.20" height="6.34" fill="none" stroke="#474747" stroke-width="0.8"/>
<rect x="458.85" y="348.82" width="5.20" height="12.68" fill="none" stroke="#474747" stroke-width="0.8"/>
<rect x="465.22" y="355.16" width="5.20" height="6.34" fill="none" stroke="#474747" stroke-width="0.8"/>
<rect x="484.36" y="342.48" width="5.20" height="19.02" fill="none" stroke="#474747" stroke-width="0.8"/>
<rect x="490.74" y="342.48" width="5.20" height="19.02" fill="none" stroke="#474747" stroke-width="0.8"/>
</svg>
</body></html>
